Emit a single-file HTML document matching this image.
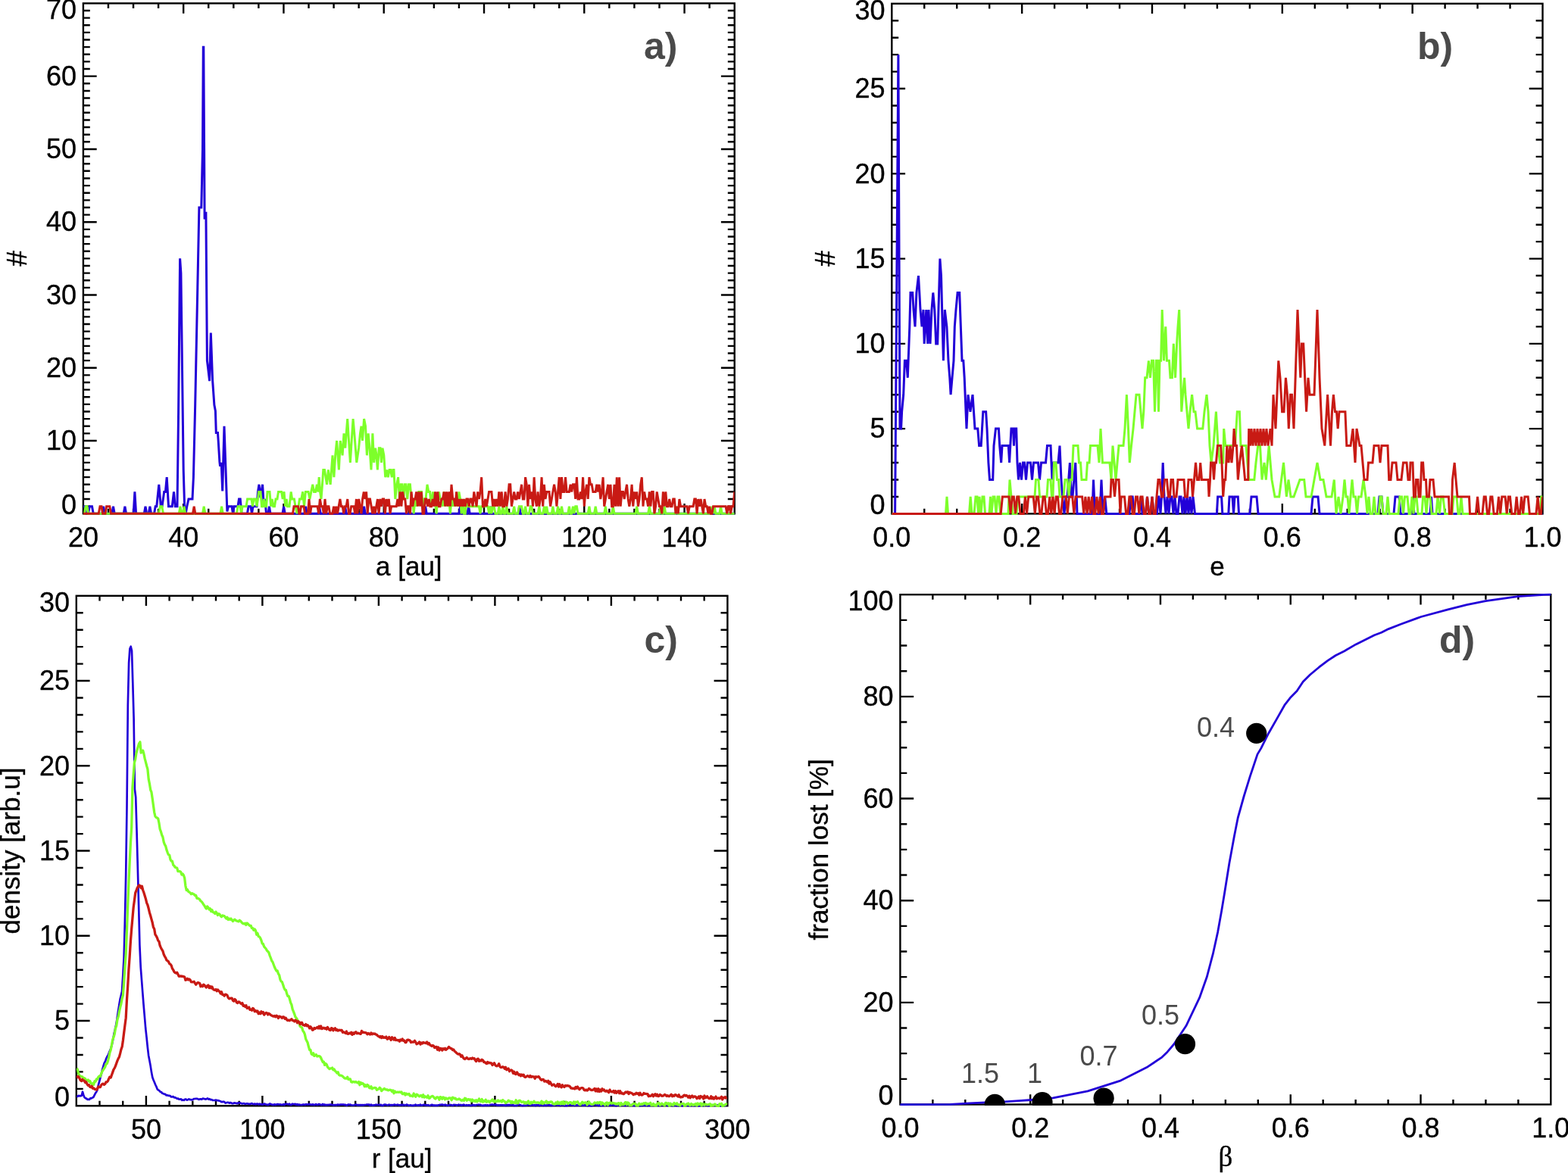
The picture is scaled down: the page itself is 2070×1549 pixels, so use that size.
<!DOCTYPE html><html><head><meta charset="utf-8"><title>plot</title><style>html,body{margin:0;padding:0;background:#fff;overflow:hidden}svg{display:block}text{font-family:"Liberation Sans", Arial, Helvetica, sans-serif;font-size:35px;fill:#000;stroke:#000;stroke-width:0.35px}.pl{font-weight:bold;font-size:50px;fill:#4a4a4a;stroke:none}.pt{fill:#4a4a4a;stroke:none}.tl{font-size:36px}</style></head><body>
<svg width="2070" height="1549" viewBox="0 0 2070 1549">
<rect width="2070" height="1549" fill="#fff"/>
<clipPath id="clipa"><rect x="109.90" y="2.40" width="859.80" height="677.90"/></clipPath>
<clipPath id="clipb"><rect x="1177.30" y="2.80" width="859.20" height="677.60"/></clipPath>
<clipPath id="clipc"><rect x="100.80" y="784.80" width="859.60" height="677.50"/></clipPath>
<clipPath id="clipd"><rect x="1188.40" y="783.20" width="858.90" height="677.30"/></clipPath>
<path d="M142.97 678.30V671.70M142.97 4.40V11.00M176.04 678.30V671.70M176.04 4.40V11.00M209.11 678.30V671.70M209.11 4.40V11.00M242.18 678.30V665.00M242.18 4.40V17.70M275.25 678.30V671.70M275.25 4.40V11.00M308.32 678.30V671.70M308.32 4.40V11.00M341.38 678.30V671.70M341.38 4.40V11.00M374.45 678.30V665.00M374.45 4.40V17.70M407.52 678.30V671.70M407.52 4.40V11.00M440.59 678.30V671.70M440.59 4.40V11.00M473.66 678.30V671.70M473.66 4.40V11.00M506.73 678.30V665.00M506.73 4.40V17.70M539.80 678.30V671.70M539.80 4.40V11.00M572.87 678.30V671.70M572.87 4.40V11.00M605.94 678.30V671.70M605.94 4.40V11.00M639.01 678.30V665.00M639.01 4.40V17.70M672.08 678.30V671.70M672.08 4.40V11.00M705.15 678.30V671.70M705.15 4.40V11.00M738.22 678.30V671.70M738.22 4.40V11.00M771.28 678.30V665.00M771.28 4.40V17.70M804.35 678.30V671.70M804.35 4.40V11.00M837.42 678.30V671.70M837.42 4.40V11.00M870.49 678.30V671.70M870.49 4.40V11.00M903.56 678.30V665.00M903.56 4.40V17.70M936.63 678.30V671.70M936.63 4.40V11.00M109.90 668.67H118.80M969.70 668.67H960.80M109.90 659.05H118.80M969.70 659.05H960.80M109.90 649.42H118.80M969.70 649.42H960.80M109.90 639.79H118.80M969.70 639.79H960.80M109.90 630.16H118.80M969.70 630.16H960.80M109.90 620.54H118.80M969.70 620.54H960.80M109.90 610.91H118.80M969.70 610.91H960.80M109.90 601.28H118.80M969.70 601.28H960.80M109.90 591.66H118.80M969.70 591.66H960.80M109.90 582.03H127.70M969.70 582.03H951.90M109.90 572.40H118.80M969.70 572.40H960.80M109.90 562.77H118.80M969.70 562.77H960.80M109.90 553.15H118.80M969.70 553.15H960.80M109.90 543.52H118.80M969.70 543.52H960.80M109.90 533.89H118.80M969.70 533.89H960.80M109.90 524.27H118.80M969.70 524.27H960.80M109.90 514.64H118.80M969.70 514.64H960.80M109.90 505.01H118.80M969.70 505.01H960.80M109.90 495.38H118.80M969.70 495.38H960.80M109.90 485.76H127.70M969.70 485.76H951.90M109.90 476.13H118.80M969.70 476.13H960.80M109.90 466.50H118.80M969.70 466.50H960.80M109.90 456.88H118.80M969.70 456.88H960.80M109.90 447.25H118.80M969.70 447.25H960.80M109.90 437.62H118.80M969.70 437.62H960.80M109.90 427.99H118.80M969.70 427.99H960.80M109.90 418.37H118.80M969.70 418.37H960.80M109.90 408.74H118.80M969.70 408.74H960.80M109.90 399.11H118.80M969.70 399.11H960.80M109.90 389.49H127.70M969.70 389.49H951.90M109.90 379.86H118.80M969.70 379.86H960.80M109.90 370.23H118.80M969.70 370.23H960.80M109.90 360.60H118.80M969.70 360.60H960.80M109.90 350.98H118.80M969.70 350.98H960.80M109.90 341.35H118.80M969.70 341.35H960.80M109.90 331.72H118.80M969.70 331.72H960.80M109.90 322.10H118.80M969.70 322.10H960.80M109.90 312.47H118.80M969.70 312.47H960.80M109.90 302.84H118.80M969.70 302.84H960.80M109.90 293.21H127.70M969.70 293.21H951.90M109.90 283.59H118.80M969.70 283.59H960.80M109.90 273.96H118.80M969.70 273.96H960.80M109.90 264.33H118.80M969.70 264.33H960.80M109.90 254.71H118.80M969.70 254.71H960.80M109.90 245.08H118.80M969.70 245.08H960.80M109.90 235.45H118.80M969.70 235.45H960.80M109.90 225.82H118.80M969.70 225.82H960.80M109.90 216.20H118.80M969.70 216.20H960.80M109.90 206.57H118.80M969.70 206.57H960.80M109.90 196.94H127.70M969.70 196.94H951.90M109.90 187.32H118.80M969.70 187.32H960.80M109.90 177.69H118.80M969.70 177.69H960.80M109.90 168.06H118.80M969.70 168.06H960.80M109.90 158.43H118.80M969.70 158.43H960.80M109.90 148.81H118.80M969.70 148.81H960.80M109.90 139.18H118.80M969.70 139.18H960.80M109.90 129.55H118.80M969.70 129.55H960.80M109.90 119.93H118.80M969.70 119.93H960.80M109.90 110.30H118.80M969.70 110.30H960.80M109.90 100.67H127.70M969.70 100.67H951.90M109.90 91.04H118.80M969.70 91.04H960.80M109.90 81.42H118.80M969.70 81.42H960.80M109.90 71.79H118.80M969.70 71.79H960.80M109.90 62.16H118.80M969.70 62.16H960.80M109.90 52.54H118.80M969.70 52.54H960.80M109.90 42.91H118.80M969.70 42.91H960.80M109.90 33.28H118.80M969.70 33.28H960.80M109.90 23.65H118.80M969.70 23.65H960.80M109.90 14.03H118.80M969.70 14.03H960.80" stroke="#000" stroke-width="2.40" fill="none"/>
<rect x="109.90" y="4.40" width="859.80" height="673.90" stroke="#000" stroke-width="2.40" fill="none"/>
<path d="M1220.26 678.40V671.80M1220.26 4.80V11.40M1263.22 678.40V671.80M1263.22 4.80V11.40M1306.18 678.40V671.80M1306.18 4.80V11.40M1349.14 678.40V665.10M1349.14 4.80V18.10M1392.10 678.40V671.80M1392.10 4.80V11.40M1435.06 678.40V671.80M1435.06 4.80V11.40M1478.02 678.40V671.80M1478.02 4.80V11.40M1520.98 678.40V665.10M1520.98 4.80V18.10M1563.94 678.40V671.80M1563.94 4.80V11.40M1606.90 678.40V671.80M1606.90 4.80V11.40M1649.86 678.40V671.80M1649.86 4.80V11.40M1692.82 678.40V665.10M1692.82 4.80V18.10M1735.78 678.40V671.80M1735.78 4.80V11.40M1778.74 678.40V671.80M1778.74 4.80V11.40M1821.70 678.40V671.80M1821.70 4.80V11.40M1864.66 678.40V665.10M1864.66 4.80V18.10M1907.62 678.40V671.80M1907.62 4.80V11.40M1950.58 678.40V671.80M1950.58 4.80V11.40M1993.54 678.40V671.80M1993.54 4.80V11.40M1177.30 655.95H1186.20M2036.50 655.95H2027.60M1177.30 633.49H1186.20M2036.50 633.49H2027.60M1177.30 611.04H1186.20M2036.50 611.04H2027.60M1177.30 588.59H1186.20M2036.50 588.59H2027.60M1177.30 566.13H1195.10M2036.50 566.13H2018.70M1177.30 543.68H1186.20M2036.50 543.68H2027.60M1177.30 521.23H1186.20M2036.50 521.23H2027.60M1177.30 498.77H1186.20M2036.50 498.77H2027.60M1177.30 476.32H1186.20M2036.50 476.32H2027.60M1177.30 453.87H1195.10M2036.50 453.87H2018.70M1177.30 431.41H1186.20M2036.50 431.41H2027.60M1177.30 408.96H1186.20M2036.50 408.96H2027.60M1177.30 386.51H1186.20M2036.50 386.51H2027.60M1177.30 364.05H1186.20M2036.50 364.05H2027.60M1177.30 341.60H1195.10M2036.50 341.60H2018.70M1177.30 319.15H1186.20M2036.50 319.15H2027.60M1177.30 296.69H1186.20M2036.50 296.69H2027.60M1177.30 274.24H1186.20M2036.50 274.24H2027.60M1177.30 251.79H1186.20M2036.50 251.79H2027.60M1177.30 229.33H1195.10M2036.50 229.33H2018.70M1177.30 206.88H1186.20M2036.50 206.88H2027.60M1177.30 184.43H1186.20M2036.50 184.43H2027.60M1177.30 161.97H1186.20M2036.50 161.97H2027.60M1177.30 139.52H1186.20M2036.50 139.52H2027.60M1177.30 117.07H1195.10M2036.50 117.07H2018.70M1177.30 94.61H1186.20M2036.50 94.61H2027.60M1177.30 72.16H1186.20M2036.50 72.16H2027.60M1177.30 49.71H1186.20M2036.50 49.71H2027.60M1177.30 27.25H1186.20M2036.50 27.25H2027.60" stroke="#000" stroke-width="2.40" fill="none"/>
<rect x="1177.30" y="4.80" width="859.20" height="673.60" stroke="#000" stroke-width="2.40" fill="none"/>
<path d="M131.50 1460.30V1453.70M131.50 786.80V793.40M162.20 1460.30V1453.70M162.20 786.80V793.40M192.90 1460.30V1447.00M192.90 786.80V800.10M223.60 1460.30V1453.70M223.60 786.80V793.40M254.30 1460.30V1453.70M254.30 786.80V793.40M285.00 1460.30V1453.70M285.00 786.80V793.40M315.70 1460.30V1453.70M315.70 786.80V793.40M346.40 1460.30V1447.00M346.40 786.80V800.10M377.10 1460.30V1453.70M377.10 786.80V793.40M407.80 1460.30V1453.70M407.80 786.80V793.40M438.50 1460.30V1453.70M438.50 786.80V793.40M469.20 1460.30V1453.70M469.20 786.80V793.40M499.90 1460.30V1447.00M499.90 786.80V800.10M530.60 1460.30V1453.70M530.60 786.80V793.40M561.30 1460.30V1453.70M561.30 786.80V793.40M592.00 1460.30V1453.70M592.00 786.80V793.40M622.70 1460.30V1453.70M622.70 786.80V793.40M653.40 1460.30V1447.00M653.40 786.80V800.10M684.10 1460.30V1453.70M684.10 786.80V793.40M714.80 1460.30V1453.70M714.80 786.80V793.40M745.50 1460.30V1453.70M745.50 786.80V793.40M776.20 1460.30V1453.70M776.20 786.80V793.40M806.90 1460.30V1447.00M806.90 786.80V800.10M837.60 1460.30V1453.70M837.60 786.80V793.40M868.30 1460.30V1453.70M868.30 786.80V793.40M899.00 1460.30V1453.70M899.00 786.80V793.40M929.70 1460.30V1453.70M929.70 786.80V793.40M100.80 1437.85H109.70M960.40 1437.85H951.50M100.80 1415.40H109.70M960.40 1415.40H951.50M100.80 1392.95H109.70M960.40 1392.95H951.50M100.80 1370.50H109.70M960.40 1370.50H951.50M100.80 1348.05H118.60M960.40 1348.05H942.60M100.80 1325.60H109.70M960.40 1325.60H951.50M100.80 1303.15H109.70M960.40 1303.15H951.50M100.80 1280.70H109.70M960.40 1280.70H951.50M100.80 1258.25H109.70M960.40 1258.25H951.50M100.80 1235.80H118.60M960.40 1235.80H942.60M100.80 1213.35H109.70M960.40 1213.35H951.50M100.80 1190.90H109.70M960.40 1190.90H951.50M100.80 1168.45H109.70M960.40 1168.45H951.50M100.80 1146.00H109.70M960.40 1146.00H951.50M100.80 1123.55H118.60M960.40 1123.55H942.60M100.80 1101.10H109.70M960.40 1101.10H951.50M100.80 1078.65H109.70M960.40 1078.65H951.50M100.80 1056.20H109.70M960.40 1056.20H951.50M100.80 1033.75H109.70M960.40 1033.75H951.50M100.80 1011.30H118.60M960.40 1011.30H942.60M100.80 988.85H109.70M960.40 988.85H951.50M100.80 966.40H109.70M960.40 966.40H951.50M100.80 943.95H109.70M960.40 943.95H951.50M100.80 921.50H109.70M960.40 921.50H951.50M100.80 899.05H118.60M960.40 899.05H942.60M100.80 876.60H109.70M960.40 876.60H951.50M100.80 854.15H109.70M960.40 854.15H951.50M100.80 831.70H109.70M960.40 831.70H951.50M100.80 809.25H109.70M960.40 809.25H951.50" stroke="#000" stroke-width="2.40" fill="none"/>
<rect x="100.80" y="786.80" width="859.60" height="673.50" stroke="#000" stroke-width="2.40" fill="none"/>
<path d="M1231.35 1458.50V1451.90M1231.35 785.20V791.80M1274.29 1458.50V1451.90M1274.29 785.20V791.80M1317.24 1458.50V1451.90M1317.24 785.20V791.80M1360.18 1458.50V1445.20M1360.18 785.20V798.50M1403.12 1458.50V1451.90M1403.12 785.20V791.80M1446.07 1458.50V1451.90M1446.07 785.20V791.80M1489.02 1458.50V1451.90M1489.02 785.20V791.80M1531.96 1458.50V1445.20M1531.96 785.20V798.50M1574.90 1458.50V1451.90M1574.90 785.20V791.80M1617.85 1458.50V1451.90M1617.85 785.20V791.80M1660.80 1458.50V1451.90M1660.80 785.20V791.80M1703.74 1458.50V1445.20M1703.74 785.20V798.50M1746.68 1458.50V1451.90M1746.68 785.20V791.80M1789.63 1458.50V1451.90M1789.63 785.20V791.80M1832.58 1458.50V1451.90M1832.58 785.20V791.80M1875.52 1458.50V1445.20M1875.52 785.20V798.50M1918.47 1458.50V1451.90M1918.47 785.20V791.80M1961.41 1458.50V1451.90M1961.41 785.20V791.80M2004.36 1458.50V1451.90M2004.36 785.20V791.80M1188.40 1424.84H1197.30M2047.30 1424.84H2038.40M1188.40 1391.17H1197.30M2047.30 1391.17H2038.40M1188.40 1357.51H1197.30M2047.30 1357.51H2038.40M1188.40 1323.84H1206.20M2047.30 1323.84H2029.50M1188.40 1290.17H1197.30M2047.30 1290.17H2038.40M1188.40 1256.51H1197.30M2047.30 1256.51H2038.40M1188.40 1222.85H1197.30M2047.30 1222.85H2038.40M1188.40 1189.18H1206.20M2047.30 1189.18H2029.50M1188.40 1155.51H1197.30M2047.30 1155.51H2038.40M1188.40 1121.85H1197.30M2047.30 1121.85H2038.40M1188.40 1088.18H1197.30M2047.30 1088.18H2038.40M1188.40 1054.52H1206.20M2047.30 1054.52H2029.50M1188.40 1020.86H1197.30M2047.30 1020.86H2038.40M1188.40 987.19H1197.30M2047.30 987.19H2038.40M1188.40 953.53H1197.30M2047.30 953.53H2038.40M1188.40 919.86H1206.20M2047.30 919.86H2029.50M1188.40 886.20H1197.30M2047.30 886.20H2038.40M1188.40 852.53H1197.30M2047.30 852.53H2038.40M1188.40 818.87H1197.30M2047.30 818.87H2038.40" stroke="#000" stroke-width="2.40" fill="none"/>
<rect x="1188.40" y="785.20" width="858.90" height="673.30" stroke="#000" stroke-width="2.40" fill="none"/>
<polyline points="110.0,668.7 112.0,668.7 113.6,678.3 116.5,678.3 118.2,668.7 121.5,668.7 123.2,678.3 135.0,678.3 136.6,668.7 138.3,678.3 147.8,678.3 149.5,668.7 151.2,678.3 163.2,678.3 164.9,668.7 166.6,678.3 176.2,678.3 177.9,649.4 179.6,678.3 190.3,678.3 192.0,668.7 193.7,678.3 196.2,678.3 197.9,668.7 199.6,678.3 203.5,678.3 205.2,668.7 206.8,668.7 209.8,639.8 212.3,668.7 214.0,668.7 216.7,649.4 218.4,649.4 220.2,630.2 222.5,668.7 225.5,668.7 227.3,668.7 229.5,649.4 231.3,668.7 234.0,668.7 235.6,543.5 237.6,341.3 238.9,360.6 240.5,485.8 242.2,620.5 243.9,678.3 245.2,678.3 246.8,668.7 249.0,659.0 254.0,659.0 255.4,630.2 257.7,533.9 260.8,379.9 262.9,274.0 265.8,274.0 267.5,196.9 268.3,62.2 268.8,62.2 269.6,196.9 270.1,289.4 271.9,279.7 273.4,476.1 274.6,485.8 276.6,503.1 278.3,439.5 280.6,502.1 282.9,534.9 284.4,542.6 285.3,571.4 287.5,571.4 288.2,582.0 289.9,609.9 290.6,615.7 292.2,610.9 293.7,648.5 296.0,562.8 299.9,675.4 301.5,668.7 306.0,668.7 307.5,678.3 309.0,668.7 314.0,668.7 315.5,659.0 317.2,659.0 319.0,678.3 326.5,678.3 328.0,668.7 331.0,668.7 332.5,678.3 334.0,668.7 339.0,668.7 340.5,649.4 342.0,639.8 343.8,657.1 345.0,649.4 346.6,639.8 348.3,668.7 349.8,659.0 351.5,678.3 354.0,678.3 355.4,668.7 357.0,678.3 373.0,678.3 374.6,668.7 376.2,678.3 402.0,678.3 403.6,668.7 405.2,678.3 420.0,678.3 421.6,668.7 423.2,678.3 454.0,678.3 455.6,668.7 457.2,678.3 479.0,678.3 480.6,668.7 482.2,678.3 560.0,678.3 561.6,668.7 563.2,678.3 606.0,678.3 607.6,668.7 609.2,678.3 617.0,678.3 618.6,668.7 620.2,678.3 646.0,678.3 647.6,668.7 649.2,678.3 684.0,678.3 685.6,668.7 687.2,678.3 969.7,678.3" fill="none" stroke="#2200d8" stroke-width="3.00" stroke-linejoin="miter" stroke-miterlimit="2.5" clip-path="url(#clipa)"/>
<polyline points="110.0,678.3 111.5,678.3 113.0,668.7 115.0,668.7 116.6,678.3 209.5,678.3 211.5,668.7 213.8,668.7 215.5,678.3 236.3,678.3 238.0,668.7 239.6,678.3 241.3,678.3 243.0,668.7 244.6,678.3 267.5,678.3 269.2,668.7 270.8,678.3 290.9,678.3 292.6,668.7 294.2,678.3 312.5,678.3 314.0,668.7 317.0,668.7 318.6,678.3 320.0,668.7 325.0,668.7 326.6,659.0 332.0,659.0 333.5,668.7 335.0,659.0 337.5,659.0 339.0,668.7 340.5,659.0 341.5,649.4 344.0,649.4 345.5,668.7 347.0,668.7 348.5,659.0 350.0,668.7 351.6,668.7 353.0,649.4 356.0,649.4 357.6,668.7 359.2,659.0 360.8,668.7 362.5,668.7 364.0,659.0 366.0,659.0 367.5,649.4 370.0,649.4 371.6,649.4 373.2,659.0 375.0,649.4 376.6,668.7 378.2,659.0 379.4,668.7 380.0,668.7 382.0,668.7 384.2,649.4 385.6,659.0 388.4,659.0 390.0,668.7 392.0,678.3 394.0,668.7 395.5,659.0 397.8,659.0 399.7,649.4 401.5,668.7 403.4,649.4 405.0,649.4 407.0,649.4 409.0,659.0 410.8,649.4 412.8,639.8 414.5,649.4 416.5,649.4 418.4,639.8 420.0,649.4 421.2,630.2 422.6,649.4 424.0,659.0 425.5,639.8 426.8,620.5 428.5,620.5 430.0,630.2 431.5,639.8 433.4,620.5 434.8,630.2 436.2,639.8 437.6,620.5 439.0,601.3 440.9,630.2 442.7,601.3 444.6,582.0 446.0,601.3 447.4,620.5 449.3,582.0 450.7,591.7 452.1,601.3 454.0,572.4 455.8,591.7 457.2,572.4 458.7,553.1 460.5,582.0 462.4,610.9 464.2,582.0 466.1,553.1 467.8,572.4 469.3,591.7 470.8,610.9 472.2,601.3 473.6,591.7 475.5,572.4 477.0,562.8 478.5,582.0 480.6,553.1 482.5,562.8 484.4,601.3 486.2,572.4 488.0,591.7 490.0,620.5 491.9,572.4 493.7,610.9 495.6,591.7 497.0,601.3 498.4,620.5 500.3,591.7 502.0,591.7 503.5,610.9 505.0,591.7 506.8,601.3 508.7,630.2 510.6,620.5 512.3,630.2 514.0,620.5 515.7,620.5 517.3,630.2 518.8,620.5 520.0,620.5 521.8,659.0 523.8,639.8 525.6,630.2 527.4,659.0 529.2,639.8 531.0,639.8 532.7,659.0 534.4,639.8 536.0,639.8 537.8,659.0 539.5,639.8 541.4,639.8 543.1,659.0 544.8,659.0 546.2,678.3 548.0,659.0 550.0,668.7 552.7,649.4 554.6,649.4 556.5,649.4 558.2,668.7 560.0,659.0 562.0,659.0 564.0,639.8 565.8,649.4 567.5,649.4 569.3,668.7 571.4,649.4 573.0,659.0 575.0,668.7 576.2,678.3 577.8,659.0 579.5,649.4 581.1,659.0 582.8,659.0 584.4,668.7 586.1,649.4 587.7,668.7 589.4,659.0 591.1,668.7 592.7,659.0 594.4,678.3 596.0,659.0 597.7,668.7 599.3,659.0 601.0,668.7 602.6,659.0 604.3,668.7 605.9,649.4 607.6,659.0 609.2,678.3 610.9,659.0 612.5,678.3 614.2,678.3 615.9,659.0 617.5,668.7 619.2,668.7 620.8,668.7 622.5,668.7 624.1,668.7 625.8,668.7 627.4,668.7 629.1,668.7 630.7,668.7 632.4,668.7 634.0,678.3 635.7,668.7 637.4,668.7 639.0,668.7 640.7,668.7 642.3,668.7 644.0,668.7 645.6,678.3 647.3,668.7 648.9,678.3 650.6,668.7 652.2,668.7 653.9,678.3 655.5,678.3 657.2,678.3 658.8,668.7 660.5,678.3 662.2,678.3 663.8,668.7 665.5,678.3 667.1,678.3 668.8,668.7 670.4,678.3 672.1,678.3 673.7,678.3 675.4,678.3 677.0,678.3 678.7,668.7 680.3,678.3 682.0,678.3 683.6,678.3 685.3,668.7 687.0,668.7 688.6,668.7 690.3,678.3 691.9,678.3 693.6,668.7 695.2,678.3 696.9,678.3 698.5,678.3 700.2,668.7 701.8,668.7 703.5,678.3 705.1,678.3 706.8,678.3 708.4,678.3 710.1,678.3 711.8,668.7 713.4,678.3 715.1,678.3 716.7,678.3 718.4,668.7 720.0,678.3 721.7,668.7 723.3,678.3 725.0,678.3 726.6,678.3 728.3,678.3 729.9,668.7 731.6,678.3 733.3,678.3 734.9,678.3 736.6,668.7 738.2,678.3 739.9,678.3 741.5,668.7 743.2,678.3 744.8,678.3 746.5,678.3 748.1,678.3 749.8,678.3 751.4,668.7 753.1,678.3 754.7,678.3 756.4,668.7 758.1,678.3 759.7,668.7 761.4,668.7 763.0,678.3 764.7,678.3 766.3,678.3 768.0,678.3 769.6,678.3 771.3,678.3 772.9,678.3 774.6,678.3 776.2,678.3 777.9,668.7 779.5,678.3 781.2,678.3 782.9,678.3 784.5,678.3 786.2,668.7 787.8,678.3 789.5,678.3 791.1,678.3 792.8,678.3 794.4,678.3 796.1,678.3 797.7,678.3 799.4,668.7 801.0,678.3 802.7,678.3 804.3,678.3 806.0,678.3 807.7,678.3 809.3,668.7 811.0,678.3 812.6,678.3 814.3,678.3 815.9,678.3 817.6,678.3 819.2,678.3 820.9,678.3 822.5,678.3 824.2,678.3 825.8,678.3 827.5,678.3 829.2,678.3 830.8,678.3 832.5,678.3 834.1,678.3 835.8,678.3 837.4,678.3 839.1,678.3 840.7,668.7 842.4,678.3 844.0,678.3 845.7,678.3 847.3,678.3 849.0,678.3 850.6,678.3 852.3,678.3 854.0,678.3 855.6,678.3 857.3,668.7 858.9,678.3 860.6,678.3 862.2,678.3 863.9,678.3 865.5,678.3 867.2,678.3 868.8,678.3 870.5,678.3 872.1,668.7 873.8,678.3 875.4,678.3 877.1,668.7 878.8,678.3 880.4,678.3 882.1,678.3 883.7,678.3 885.4,678.3 887.0,678.3 888.7,678.3 890.3,678.3 892.0,678.3 893.6,668.7 895.3,678.3 896.9,678.3 898.6,678.3 900.2,678.3 901.9,678.3 903.6,678.3 905.2,678.3 906.9,678.3 908.5,678.3 910.2,678.3 911.8,678.3 913.5,678.3 915.1,678.3 916.8,678.3 918.4,678.3 920.1,678.3 921.7,678.3 923.4,678.3 925.1,678.3 926.7,678.3 928.4,678.3 930.0,678.3 931.7,678.3 933.3,678.3 935.0,678.3 936.6,678.3 938.3,678.3 939.9,668.7 941.6,678.3 943.2,668.7 944.9,678.3 946.5,678.3 948.2,678.3 949.9,678.3 951.5,668.7 953.2,678.3 954.8,678.3 956.5,678.3 958.1,678.3 959.8,678.3 961.4,678.3 963.1,678.3 964.7,678.3 966.4,678.3 968.0,678.3 969.7,678.3" fill="none" stroke="#7dff2a" stroke-width="3.00" stroke-linejoin="miter" stroke-miterlimit="2.5" clip-path="url(#clipa)"/>
<polyline points="110.0,678.3 130.2,678.3 132.0,668.7 134.0,668.7 135.6,678.3 139.0,678.3 140.6,668.7 144.8,668.7 146.5,678.3 254.5,678.3 256.2,668.7 257.8,678.3 386.5,678.3 388.0,668.7 393.5,668.7 395.0,678.3 396.0,678.3 397.5,668.7 401.0,668.7 402.6,678.3 406.5,678.3 408.0,659.0 409.6,678.3 411.0,668.7 415.0,668.7 415.8,668.7 417.4,668.7 419.1,668.7 420.7,678.3 422.4,659.0 424.1,668.7 425.7,668.7 427.4,678.3 429.0,659.0 430.7,678.3 432.3,668.7 434.0,668.7 435.6,678.3 437.3,678.3 438.9,678.3 440.6,668.7 442.2,678.3 443.9,668.7 445.6,678.3 447.2,668.7 448.9,659.0 450.5,668.7 452.2,668.7 453.8,678.3 455.5,668.7 457.1,668.7 458.8,659.0 460.4,678.3 462.1,678.3 463.7,668.7 465.4,668.7 467.0,668.7 468.7,678.3 470.4,659.0 472.0,678.3 473.7,659.0 475.3,668.7 477.0,678.3 478.6,659.0 480.3,649.4 481.9,659.0 483.6,649.4 485.2,678.3 486.9,659.0 488.5,659.0 490.2,668.7 491.8,678.3 493.5,668.7 495.2,678.3 496.8,668.7 498.5,659.0 500.1,678.3 501.8,659.0 503.4,668.7 505.1,659.0 506.7,659.0 508.4,678.3 510.0,659.0 511.7,668.7 513.3,659.0 515.0,678.3 516.6,668.7 518.3,668.7 520.0,668.7 521.6,668.7 523.3,668.7 524.9,659.0 526.6,668.7 528.2,649.4 529.9,668.7 531.5,649.4 533.2,659.0 534.8,659.0 536.5,678.3 538.1,668.7 539.8,668.7 541.5,678.3 543.1,649.4 544.8,668.7 546.4,659.0 548.1,659.0 549.7,649.4 551.4,668.7 553.0,649.4 554.7,668.7 556.3,649.4 558.0,678.3 559.6,678.3 561.3,659.0 562.9,659.0 564.6,668.7 566.3,659.0 567.9,668.7 569.6,668.7 571.2,659.0 572.9,668.7 574.5,649.4 576.2,668.7 577.8,649.4 579.5,668.7 581.1,668.7 582.8,659.0 584.4,659.0 586.1,649.4 587.7,668.7 589.4,649.4 591.1,668.7 592.7,649.4 594.4,668.7 596.0,639.8 597.7,659.0 599.3,659.0 601.0,668.7 602.6,649.4 604.3,668.7 605.9,659.0 607.6,668.7 609.2,659.0 610.9,668.7 612.5,659.0 614.2,668.7 615.9,659.0 617.5,659.0 619.2,668.7 620.8,659.0 622.5,659.0 624.1,668.7 625.8,649.4 627.4,659.0 629.1,668.7 630.7,649.4 632.4,659.0 634.0,649.4 635.7,630.2 637.4,668.7 639.0,668.7 640.7,659.0 642.3,668.7 644.0,659.0 645.6,649.4 647.3,649.4 648.9,649.4 650.6,668.7 652.2,659.0 653.9,668.7 655.5,659.0 657.2,668.7 658.8,649.4 660.5,668.7 662.2,649.4 663.8,668.7 665.5,668.7 667.1,649.4 668.8,668.7 670.4,659.0 672.1,639.8 673.7,639.8 675.4,668.7 677.0,659.0 678.7,649.4 680.3,659.0 682.0,659.0 683.6,649.4 685.3,659.0 687.0,649.4 688.6,639.8 690.3,659.0 691.9,659.0 693.6,630.2 695.2,639.8 696.9,668.7 698.5,639.8 700.2,659.0 701.8,649.4 703.5,668.7 705.1,630.2 706.8,659.0 708.4,668.7 710.1,649.4 711.8,668.7 713.4,659.0 715.1,630.2 716.7,668.7 718.4,639.8 720.0,659.0 721.7,649.4 723.3,649.4 725.0,649.4 726.6,668.7 728.3,659.0 729.9,649.4 731.6,639.8 733.3,649.4 734.9,668.7 736.6,649.4 738.2,630.2 739.9,659.0 741.5,630.2 743.2,649.4 744.8,649.4 746.5,630.2 748.1,649.4 749.8,649.4 751.4,649.4 753.1,639.8 754.7,649.4 756.4,639.8 758.1,639.8 759.7,659.0 761.4,630.2 763.0,659.0 764.7,659.0 766.3,649.4 768.0,659.0 769.6,630.2 771.3,668.7 772.9,649.4 774.6,639.8 776.2,659.0 777.9,630.2 779.5,639.8 781.2,639.8 782.9,649.4 784.5,649.4 786.2,649.4 787.8,639.8 789.5,649.4 791.1,639.8 792.8,659.0 794.4,649.4 796.1,630.2 797.7,668.7 799.4,659.0 801.0,649.4 802.7,639.8 804.3,659.0 806.0,639.8 807.7,668.7 809.3,668.7 811.0,639.8 812.6,668.7 814.3,630.2 815.9,668.7 817.6,630.2 819.2,668.7 820.9,649.4 822.5,649.4 824.2,659.0 825.8,649.4 827.5,639.8 829.2,659.0 830.8,668.7 832.5,659.0 834.1,639.8 835.8,668.7 837.4,649.4 839.1,659.0 840.7,649.4 842.4,668.7 844.0,659.0 845.7,639.8 847.3,630.2 849.0,668.7 850.6,649.4 852.3,659.0 854.0,659.0 855.6,668.7 857.3,649.4 858.9,668.7 860.6,649.4 862.2,649.4 863.9,678.3 865.5,668.7 867.2,649.4 868.8,659.0 870.5,668.7 872.1,668.7 873.8,678.3 875.4,649.4 877.1,668.7 878.8,649.4 880.4,668.7 882.1,668.7 883.7,659.0 885.4,668.7 887.0,668.7 888.7,659.0 890.3,659.0 892.0,678.3 893.6,668.7 895.3,678.3 896.9,659.0 898.6,668.7 900.2,668.7 901.9,668.7 903.6,668.7 905.2,668.7 906.9,668.7 908.5,678.3 910.2,668.7 911.8,668.7 913.5,668.7 915.1,668.7 916.8,659.0 918.4,659.0 920.1,678.3 921.7,659.0 923.4,668.7 925.1,659.0 926.7,668.7 928.4,678.3 930.0,659.0 931.7,668.7 933.3,668.7 935.0,678.3 936.6,668.7 938.3,678.3 939.9,678.3 941.6,668.7 943.2,668.7 944.9,668.7 946.5,668.7 948.2,668.7 949.9,668.7 951.5,668.7 953.2,668.7 954.8,668.7 956.5,668.7 958.1,668.7 959.8,678.3 961.4,668.7 963.1,668.7 964.5,678.3 966.2,668.7 968.0,668.7 969.7,649.4" fill="none" stroke="#c81a14" stroke-width="3.00" stroke-linejoin="miter" stroke-miterlimit="2.5" clip-path="url(#clipa)"/>
<polyline points="1177.3,678.4 1181.6,678.4 1183.7,386.5 1185.9,72.2 1188.0,566.1 1189.6,566.1 1190.6,543.7 1192.7,521.2 1194.4,476.3 1196.5,476.3 1198.3,498.8 1200.8,431.4 1202.0,386.5 1204.7,386.5 1206.0,409.0 1208.0,431.4 1209.9,386.5 1212.5,364.1 1213.8,386.5 1215.0,409.0 1217.0,431.4 1219.0,409.0 1220.2,453.9 1222.8,409.0 1224.7,453.9 1226.0,409.0 1228.0,453.9 1230.0,409.0 1231.8,386.5 1233.8,409.0 1235.7,453.9 1237.7,453.9 1240.9,341.6 1242.5,364.1 1245.4,476.3 1247.3,409.0 1249.9,431.4 1252.0,476.3 1253.8,498.8 1255.1,521.2 1257.0,498.8 1259.0,476.3 1260.3,431.4 1262.0,409.0 1264.1,386.5 1266.7,386.5 1270.0,476.3 1271.8,476.3 1273.2,498.8 1276.0,566.1 1278.0,521.2 1281.0,543.7 1284.0,521.2 1287.0,566.1 1290.8,566.1 1292.6,588.6 1295.2,588.6 1296.5,566.1 1297.8,543.7 1301.6,543.7 1303.0,566.1 1304.9,611.0 1306.5,633.5 1310.7,633.5 1312.0,588.6 1314.5,566.1 1318.4,566.1 1319.7,588.6 1321.7,611.0 1323.0,588.6 1331.3,588.6 1332.6,611.0 1335.0,566.1 1337.5,566.1 1338.5,588.6 1339.5,566.1 1341.7,566.1 1343.0,611.0 1344.5,633.5 1346.5,611.0 1348.5,633.5 1350.5,611.0 1352.5,611.0 1354.5,633.5 1356.5,611.0 1358.5,611.0 1360.5,611.0 1362.5,633.5 1364.5,611.0 1366.5,611.0 1368.5,611.0 1370.5,611.0 1372.5,633.5 1374.5,611.0 1376.5,611.0 1378.5,611.0 1380.5,611.0 1382.5,588.6 1385.0,588.6 1387.0,588.6 1389.0,633.5 1391.0,611.0 1393.0,611.0 1395.0,611.0 1397.0,611.0 1399.0,588.6 1401.0,633.5 1402.6,655.9 1405.0,678.4 1407.0,655.9 1409.0,655.9 1412.4,611.0 1414.5,655.9 1416.0,655.9 1417.8,633.5 1419.8,611.0 1422.0,678.4 1442.0,678.4 1443.5,633.5 1445.5,678.4 1452.0,678.4 1454.0,633.5 1456.0,678.4 1456.5,678.4 1458.7,655.9 1460.8,678.4 1463.0,678.4 1465.1,678.4 1467.3,678.4 1469.4,678.4 1471.6,678.4 1473.7,678.4 1475.9,678.4 1478.0,678.4 1480.2,678.4 1482.3,678.4 1484.5,678.4 1486.6,678.4 1488.8,678.4 1490.9,678.4 1493.1,655.9 1495.2,655.9 1497.4,678.4 1499.5,678.4 1501.6,678.4 1503.8,678.4 1505.9,655.9 1508.1,678.4 1510.2,678.4 1512.4,678.4 1514.5,655.9 1516.7,678.4 1518.8,678.4 1521.0,655.9 1523.1,678.4 1525.3,678.4 1527.4,678.4 1529.6,655.9 1530.0,655.9 1532.0,678.4 1533.5,655.9 1535.2,611.0 1537.0,655.9 1539.0,678.4 1541.0,655.9 1543.0,678.4 1545.0,655.9 1547.0,655.9 1549.0,678.4 1551.0,655.9 1553.0,678.4 1555.0,678.4 1557.0,655.9 1559.0,655.9 1561.0,678.4 1563.0,655.9 1565.0,678.4 1567.0,655.9 1569.0,678.4 1571.0,655.9 1573.0,678.4 1575.0,655.9 1577.5,678.4 1606.4,678.4 1607.6,655.9 1612.6,655.9 1613.8,678.4 1621.8,678.4 1623.0,655.9 1627.0,655.9 1628.5,678.4 1630.0,655.9 1634.3,655.9 1635.5,678.4 1650.0,678.4 1652.0,655.9 1659.0,655.9 1661.0,678.4 1731.0,678.4 1733.0,655.9 1740.0,655.9 1742.0,678.4 1819.0,678.4 1821.0,655.9 1824.0,655.9 1826.0,678.4 1840.0,678.4 1842.0,655.9 1847.0,655.9 1849.0,678.4 1863.0,678.4 1865.0,655.9 1867.0,678.4 1888.0,678.4 1889.5,655.9 1891.0,678.4 2036.5,678.4" fill="none" stroke="#2200d8" stroke-width="3.00" stroke-linejoin="miter" stroke-miterlimit="2.5" clip-path="url(#clipb)"/>
<polyline points="1177.3,678.4 1179.4,678.4 1181.6,678.4 1183.7,678.4 1185.9,678.4 1188.0,678.4 1190.2,678.4 1192.3,678.4 1194.5,678.4 1196.6,678.4 1198.8,678.4 1200.9,678.4 1203.1,678.4 1205.2,678.4 1207.4,678.4 1209.5,678.4 1211.7,678.4 1213.8,678.4 1216.0,678.4 1218.1,678.4 1220.3,678.4 1222.4,678.4 1224.6,678.4 1226.7,678.4 1228.9,678.4 1231.0,678.4 1233.1,678.4 1235.3,678.4 1237.4,678.4 1239.6,678.4 1241.7,678.4 1244.0,678.4 1248.5,678.4 1250.0,655.9 1251.5,678.4 1279.5,678.4 1281.2,655.9 1283.0,678.4 1286.0,678.4 1288.0,655.9 1290.0,655.9 1291.5,678.4 1293.0,655.9 1295.0,678.4 1297.0,655.9 1299.0,655.9 1300.5,678.4 1306.0,678.4 1307.5,655.9 1309.0,678.4 1311.0,655.9 1313.0,655.9 1315.0,678.4 1317.0,655.9 1319.0,655.9 1320.5,678.4 1331.0,678.4 1333.0,633.5 1335.0,655.9 1337.0,678.4 1342.0,678.4 1344.0,655.9 1366.0,655.9 1367.5,633.5 1371.0,633.5 1372.5,655.9 1382.0,655.9 1383.5,633.5 1387.0,633.5 1388.5,655.9 1390.0,655.9 1391.5,611.0 1394.0,611.0 1395.5,633.5 1397.5,633.5 1399.0,655.9 1404.0,655.9 1406.0,633.5 1409.0,633.5 1411.0,655.9 1413.0,633.5 1415.0,633.5 1417.0,588.6 1423.0,588.6 1424.5,611.0 1426.5,611.0 1428.0,633.5 1434.0,633.5 1435.5,611.0 1438.0,611.0 1439.5,588.6 1449.0,588.6 1451.0,611.0 1453.0,566.1 1455.5,611.0 1457.0,611.0 1465.0,611.0 1467.0,633.5 1469.0,588.6 1471.0,611.0 1473.0,633.5 1475.0,611.0 1477.0,588.6 1483.0,588.6 1485.0,566.1 1487.4,521.2 1489.5,566.1 1491.3,611.0 1493.5,588.6 1496.0,566.1 1498.0,543.7 1500.0,521.2 1504.0,521.2 1506.0,543.7 1508.0,566.1 1509.8,543.7 1511.7,498.8 1514.0,498.8 1516.4,476.3 1518.5,498.8 1520.5,476.3 1522.6,476.3 1524.5,543.7 1526.4,476.3 1528.0,476.3 1529.5,543.7 1531.0,476.3 1532.6,476.3 1534.2,409.0 1536.5,476.3 1538.8,431.4 1540.4,476.3 1543.5,476.3 1545.0,498.8 1547.4,498.8 1549.3,453.9 1551.6,498.8 1553.6,453.9 1555.0,431.4 1556.7,409.0 1559.8,543.7 1561.5,521.2 1563.6,498.8 1565.0,521.2 1567.0,543.7 1569.0,566.1 1571.0,543.7 1573.6,521.2 1576.0,543.7 1578.0,543.7 1580.6,566.1 1584.0,566.1 1587.8,566.1 1590.0,543.7 1593.0,521.2 1595.0,543.7 1597.0,588.6 1599.0,611.0 1602.0,588.6 1605.4,543.7 1608.0,588.6 1610.5,611.0 1612.5,611.0 1614.7,611.0 1615.7,566.1 1617.8,588.6 1628.0,588.6 1630.5,588.6 1633.3,543.7 1636.4,543.7 1638.0,588.6 1641.0,588.6 1645.0,588.6 1648.7,633.5 1652.0,633.5 1655.8,633.5 1658.0,611.0 1660.7,588.6 1663.5,588.6 1666.0,633.5 1669.0,611.0 1671.3,633.5 1675.2,588.6 1679.0,633.5 1683.0,655.9 1688.7,655.9 1694.5,611.0 1698.4,655.9 1701.0,633.5 1704.0,655.9 1708.0,655.9 1716.0,633.5 1721.7,633.5 1724.0,655.9 1731.0,655.9 1739.0,611.0 1743.0,633.5 1747.0,633.5 1751.0,655.9 1758.0,655.9 1761.3,633.5 1764.0,678.4 1767.0,655.9 1770.0,678.4 1773.0,655.9 1775.0,633.5 1777.0,655.9 1779.0,655.9 1781.0,678.4 1783.0,655.9 1785.0,633.5 1787.0,655.9 1789.5,655.9 1791.5,678.4 1793.5,655.9 1797.0,655.9 1800.0,633.5 1803.0,655.9 1805.0,678.4 1807.0,655.9 1809.0,678.4 1812.0,678.4 1814.0,655.9 1816.0,678.4 1820.0,678.4 1822.0,655.9 1824.0,655.9 1826.0,678.4 1830.0,678.4 1832.0,655.9 1834.0,678.4 1846.0,678.4 1848.0,655.9 1850.6,655.9 1852.6,678.4 1854.5,655.9 1858.0,655.9 1860.0,678.4 1862.0,678.4 1864.0,655.9 1866.0,678.4 1868.0,655.9 1870.0,655.9 1872.0,678.4 1877.0,678.4 1878.6,655.9 1881.0,655.9 1883.0,678.4 1885.0,655.9 1888.0,655.9 1890.0,678.4 1896.0,678.4 1898.0,655.9 1900.5,678.4 1902.5,655.9 1905.0,655.9 1907.6,678.4 1917.0,678.4 1919.0,655.9 1923.0,655.9 1925.0,678.4 1927.0,678.4 1929.0,655.9 1931.0,678.4 2033.0,678.4 2034.8,655.9 2036.5,655.9" fill="none" stroke="#7dff2a" stroke-width="3.00" stroke-linejoin="miter" stroke-miterlimit="2.5" clip-path="url(#clipb)"/>
<polyline points="1177.3,678.4 1179.4,678.4 1181.6,678.4 1183.7,678.4 1185.9,678.4 1188.0,678.4 1190.2,678.4 1192.3,678.4 1194.5,678.4 1196.6,678.4 1198.8,678.4 1200.9,678.4 1203.1,678.4 1205.2,678.4 1207.4,678.4 1209.5,678.4 1211.7,678.4 1213.8,678.4 1216.0,678.4 1218.1,678.4 1220.3,678.4 1222.4,678.4 1224.6,678.4 1226.7,678.4 1228.9,678.4 1231.0,678.4 1233.1,678.4 1235.3,678.4 1237.4,678.4 1239.6,678.4 1241.7,678.4 1243.9,678.4 1246.0,678.4 1248.2,678.4 1250.3,678.4 1252.5,678.4 1254.6,678.4 1256.8,678.4 1258.9,678.4 1261.1,678.4 1263.2,678.4 1265.4,678.4 1267.5,678.4 1269.7,678.4 1271.8,678.4 1274.0,678.4 1276.1,678.4 1278.3,678.4 1280.4,678.4 1282.6,678.4 1284.7,678.4 1286.8,678.4 1289.0,678.4 1291.1,678.4 1293.3,678.4 1295.4,678.4 1297.6,678.4 1299.7,678.4 1301.9,678.4 1304.0,678.4 1306.2,678.4 1308.3,678.4 1310.5,678.4 1312.6,678.4 1314.8,678.4 1316.9,678.4 1319.1,678.4 1321.2,678.4 1323.4,655.9 1325.5,655.9 1327.7,655.9 1329.8,655.9 1332.0,655.9 1334.1,678.4 1336.3,655.9 1338.4,655.9 1340.5,678.4 1342.7,655.9 1344.8,655.9 1347.0,678.4 1349.1,678.4 1351.3,678.4 1353.4,655.9 1355.6,678.4 1357.7,655.9 1359.9,655.9 1362.0,655.9 1364.2,655.9 1366.3,678.4 1368.5,655.9 1370.6,655.9 1372.8,678.4 1374.9,678.4 1377.1,655.9 1379.2,655.9 1381.4,678.4 1383.5,678.4 1385.7,655.9 1387.8,678.4 1390.0,655.9 1392.1,678.4 1394.2,655.9 1396.4,655.9 1398.5,678.4 1400.7,678.4 1402.8,655.9 1405.0,655.9 1407.1,655.9 1409.3,678.4 1411.4,655.9 1413.6,655.9 1415.7,655.9 1417.9,678.4 1420.0,655.9 1422.2,655.9 1424.3,655.9 1426.5,655.9 1428.6,655.9 1430.8,678.4 1432.9,655.9 1435.1,678.4 1437.2,655.9 1439.4,678.4 1441.5,655.9 1443.7,678.4 1445.8,678.4 1447.9,655.9 1450.1,678.4 1452.2,655.9 1454.4,678.4 1456.5,678.4 1458.7,655.9 1460.8,655.9 1463.0,655.9 1465.1,655.9 1466.0,655.9 1467.0,633.5 1469.5,633.5 1471.5,655.9 1473.5,633.5 1477.0,633.5 1479.0,678.4 1480.2,655.9 1482.3,655.9 1484.5,655.9 1486.6,678.4 1488.8,678.4 1490.9,655.9 1493.1,655.9 1495.2,678.4 1497.4,678.4 1499.5,655.9 1501.6,655.9 1503.8,678.4 1505.9,655.9 1508.1,655.9 1510.2,678.4 1512.4,678.4 1514.5,655.9 1516.7,678.4 1518.8,678.4 1521.0,655.9 1523.1,678.4 1525.3,678.4 1527.0,655.9 1529.0,633.5 1531.0,633.5 1533.5,655.9 1535.5,655.9 1537.5,633.5 1540.5,633.5 1542.5,655.9 1544.5,655.9 1546.0,633.5 1548.5,633.5 1550.0,655.9 1553.0,655.9 1555.0,633.5 1563.0,633.5 1564.5,655.9 1567.5,655.9 1569.0,633.5 1573.0,633.5 1574.5,655.9 1576.5,633.5 1578.5,611.0 1580.5,633.5 1583.0,633.5 1584.7,611.0 1586.5,633.5 1595.0,633.5 1596.0,655.9 1597.5,633.5 1598.5,611.0 1601.0,611.0 1602.5,633.5 1604.0,611.0 1605.5,611.0 1607.4,588.6 1611.6,588.6 1613.0,611.0 1614.7,655.9 1616.5,633.5 1617.8,633.5 1619.8,588.6 1622.0,611.0 1624.0,588.6 1626.0,611.0 1628.0,588.6 1629.1,566.1 1631.0,588.6 1632.5,588.6 1634.3,633.5 1636.5,611.0 1639.4,588.6 1641.5,611.0 1643.6,633.5 1647.7,633.5 1648.7,566.1 1650.5,588.6 1652.0,566.1 1654.0,588.6 1656.0,566.1 1658.0,588.6 1660.0,566.1 1662.0,588.6 1664.0,566.1 1666.0,588.6 1668.0,566.1 1670.0,588.6 1672.0,566.1 1674.0,588.6 1677.0,566.1 1679.0,588.6 1681.0,521.2 1684.0,566.1 1687.8,476.3 1690.0,498.8 1692.6,543.7 1695.0,543.7 1697.4,498.8 1699.5,521.2 1701.3,566.1 1703.5,521.2 1705.5,521.2 1708.0,566.1 1713.0,409.0 1716.8,498.8 1718.5,453.9 1720.7,453.9 1724.6,543.7 1727.0,498.8 1729.0,521.2 1735.0,521.2 1739.0,409.0 1742.0,498.8 1745.0,566.1 1748.8,588.6 1752.6,521.2 1756.5,588.6 1758.5,543.7 1760.4,521.2 1762.5,543.7 1764.5,543.7 1766.2,566.1 1768.0,543.7 1773.0,543.7 1775.9,543.7 1777.8,588.6 1783.0,588.6 1786.0,566.1 1789.0,611.0 1791.0,566.1 1795.0,588.6 1797.0,588.6 1801.0,633.5 1805.0,633.5 1806.5,611.0 1812.0,611.0 1814.0,588.6 1820.0,588.6 1822.0,611.0 1824.0,588.6 1832.0,588.6 1833.7,633.5 1836.0,633.5 1838.0,611.0 1843.0,611.0 1845.0,633.5 1850.0,633.5 1852.5,611.0 1857.0,611.0 1859.0,633.5 1861.0,633.5 1862.0,611.0 1865.0,611.0 1866.5,655.9 1868.5,655.9 1869.5,633.5 1872.0,633.5 1873.0,655.9 1875.0,655.9 1876.7,611.0 1878.6,611.0 1880.0,633.5 1882.5,633.5 1883.5,655.9 1886.4,655.9 1888.0,633.5 1892.0,633.5 1894.0,655.9 1912.5,655.9 1913.4,678.4 1916.3,678.4 1917.5,633.5 1920.2,611.0 1922.0,633.5 1924.0,655.9 1939.5,655.9 1940.5,678.4 1942.0,678.4 1944.1,678.4 1946.3,678.4 1948.4,678.4 1950.6,655.9 1952.7,678.4 1954.9,678.4 1957.0,678.4 1959.2,655.9 1961.3,655.9 1963.5,678.4 1965.6,678.4 1967.8,655.9 1969.9,655.9 1972.1,678.4 1974.2,678.4 1976.4,678.4 1978.5,655.9 1980.7,678.4 1982.8,655.9 1984.9,655.9 1987.1,655.9 1989.2,678.4 1991.4,655.9 1993.5,655.9 1995.7,678.4 1997.8,678.4 2000.0,678.4 2002.1,655.9 2004.3,678.4 2006.4,678.4 2008.6,655.9 2010.7,678.4 2012.9,655.9 2015.0,655.9 2017.2,655.9 2019.3,678.4 2021.5,678.4 2023.6,678.4 2025.8,678.4 2027.9,678.4 2030.1,655.9 2032.2,678.4 2034.4,678.4 2036.5,655.9" fill="none" stroke="#c81a14" stroke-width="3.00" stroke-linejoin="miter" stroke-miterlimit="2.5" clip-path="url(#clipb)"/>
<polyline points="101.2,1447.5 102.5,1447.9 103.8,1446.9 105.1,1447.3 106.4,1447.1 107.7,1447.0 109.0,1441.7 110.3,1446.2 111.6,1449.2 112.9,1450.2 114.2,1450.8 115.5,1452.0 116.8,1451.7 118.1,1452.0 119.4,1450.2 120.7,1450.5 122.0,1449.5 123.3,1449.0 124.6,1446.3 125.9,1443.8 127.2,1442.0 128.5,1439.3 129.8,1433.1 131.1,1428.4 132.4,1423.4 133.7,1418.6 135.0,1412.9 136.3,1408.3 137.6,1403.9 138.9,1401.8 140.2,1397.8 141.5,1395.3 142.8,1393.1 144.1,1389.6 145.4,1386.9 146.7,1383.4 148.0,1378.6 149.3,1372.3 150.6,1364.7 151.9,1359.3 153.2,1353.2 154.5,1345.8 155.8,1336.4 157.1,1328.4 158.4,1320.1 159.7,1314.7 161.0,1309.3 162.3,1288.7 163.6,1264.7 164.9,1216.1 166.2,1154.8 167.5,1065.7 168.8,931.9 170.1,875.7 171.4,856.8 172.7,853.7 174.0,859.3 175.3,901.6 176.6,948.6 177.9,1042.1 179.2,1052.6 180.5,1096.5 181.8,1144.9 183.1,1195.2 184.4,1248.0 185.7,1276.8 187.0,1294.0 188.3,1310.8 189.6,1327.3 190.9,1342.5 192.2,1358.0 193.5,1369.7 194.8,1382.5 196.1,1393.7 197.4,1400.6 198.7,1407.6 200.0,1416.1 201.3,1422.7 202.6,1426.3 203.9,1429.3 205.2,1432.5 206.5,1435.2 207.8,1438.4 209.1,1439.6 210.4,1440.3 211.7,1442.0 213.0,1442.2 214.3,1443.8 215.6,1444.1 216.9,1444.9 218.2,1444.9 219.5,1446.5 220.8,1446.2 222.1,1446.8 223.4,1446.9 224.7,1447.1 226.0,1448.5 227.3,1448.4 228.6,1448.0 229.9,1449.3 231.2,1449.3 232.5,1450.0 233.8,1450.9 235.1,1450.6 236.4,1451.7 237.7,1451.7 239.0,1451.3 240.3,1452.9 241.6,1452.5 242.9,1452.9 244.2,1451.7 245.5,1451.6 246.8,1452.6 248.1,1452.3 249.4,1451.3 250.7,1452.2 252.0,1452.2 253.3,1452.4 254.6,1452.0 255.9,1451.2 257.2,1451.0 258.5,1450.9 259.8,1450.9 261.1,1451.1 262.4,1451.9 263.7,1451.4 265.0,1451.4 266.3,1451.8 267.6,1450.7 268.9,1450.9 270.2,1451.3 271.5,1451.7 272.8,1451.1 274.1,1450.4 275.4,1451.7 276.7,1451.2 278.0,1452.3 279.3,1452.0 280.6,1452.9 281.9,1453.0 283.2,1453.0 284.5,1452.7 285.8,1452.9 287.1,1453.2 288.4,1453.4 289.7,1453.8 291.0,1454.2 292.3,1455.1 293.6,1455.2 294.9,1454.7 296.2,1455.1 297.5,1456.6 298.8,1456.2 300.1,1455.8 301.4,1455.9 302.7,1456.7 304.0,1456.0 305.3,1456.6 306.6,1457.2 307.9,1457.1 309.2,1456.3 310.5,1456.7 311.8,1456.9 313.1,1457.3 314.4,1456.4 315.7,1456.3 317.0,1456.4 318.3,1457.1 319.6,1457.3 320.9,1457.3 322.2,1457.0 323.5,1458.0 324.8,1457.5 326.1,1457.3 327.4,1457.6 328.7,1457.9 330.0,1457.9 331.3,1457.4 332.6,1457.2 333.9,1457.7 335.2,1458.1 336.5,1457.6 337.8,1458.4 339.1,1457.5 340.4,1457.8 341.7,1458.5 343.0,1457.7 344.3,1458.3 345.6,1458.2 346.9,1458.7 348.2,1457.8 349.5,1457.6 350.8,1458.5 352.1,1458.6 353.4,1458.8 354.7,1458.8 356.0,1457.5 357.3,1457.9 358.6,1458.4 359.9,1458.9 361.2,1458.9 362.5,1458.3 363.8,1458.9 365.1,1458.5 366.4,1458.1 367.7,1458.3 369.0,1458.5 370.3,1458.4 371.6,1458.9 372.9,1458.9 374.2,1458.2 375.5,1459.0 376.8,1457.9 378.1,1457.8 379.4,1457.9 380.7,1458.4 382.0,1457.7 383.3,1459.0 384.6,1458.9 385.9,1457.7 387.2,1458.0 388.5,1458.2 389.8,1457.9 391.1,1458.9 392.4,1458.2 393.7,1459.1 395.0,1458.6 396.3,1459.0 397.6,1459.0 398.9,1459.1 400.2,1458.5 401.5,1458.6 402.8,1459.0 404.1,1458.2 405.4,1458.5 406.7,1458.7 408.0,1457.9 409.3,1458.7 410.6,1458.5 411.9,1459.0 413.2,1458.3 414.5,1459.2 415.8,1458.7 417.1,1458.2 418.4,1459.0 419.7,1458.8 421.0,1458.0 422.3,1458.6 423.6,1458.9 424.9,1459.3 426.2,1458.0 427.5,1459.4 428.8,1458.5 430.1,1459.4 431.4,1458.9 432.7,1459.2 434.0,1458.9 435.3,1458.9 436.6,1458.5 437.9,1458.9 439.2,1459.1 440.5,1459.3 441.8,1459.2 443.1,1459.1 444.4,1459.3 445.7,1458.6 447.0,1459.1 448.3,1458.8 449.6,1458.7 450.9,1458.7 452.2,1458.7 453.5,1458.6 454.8,1459.1 456.1,1458.8 457.4,1459.6 458.7,1459.2 460.0,1458.5 461.3,1458.8 462.6,1458.7 463.9,1459.4 465.2,1459.5 466.5,1459.5 467.8,1459.2 469.1,1458.7 470.4,1458.7 471.7,1459.5 473.0,1459.1 474.3,1459.4 475.6,1459.1 476.9,1459.4 478.2,1459.1 479.5,1459.4 480.8,1459.2 482.1,1459.0 483.4,1458.9 484.7,1458.5 486.0,1458.9 487.3,1458.5 488.6,1459.8 489.9,1458.7 491.2,1459.6 492.5,1459.7 493.8,1459.4 495.1,1459.3 496.4,1458.7 497.7,1459.1 499.0,1459.0 500.3,1458.8 501.6,1459.3 502.9,1458.9 504.2,1459.8 505.5,1459.8 506.8,1458.9 508.1,1458.7 509.4,1458.8 510.7,1459.2 512.0,1459.5 513.3,1458.8 514.6,1458.9 515.9,1459.7 517.2,1459.1 518.5,1459.4 519.8,1458.9 521.1,1458.7 522.4,1459.3 523.7,1459.2 525.0,1458.7 526.3,1459.4 527.6,1459.3 528.9,1459.5 530.2,1458.7 531.5,1459.6 532.8,1458.9 534.1,1459.3 535.4,1459.6 536.7,1458.6 538.0,1459.0 539.3,1459.8 540.6,1459.7 541.9,1459.3 543.2,1459.8 544.5,1459.9 545.8,1459.7 547.1,1459.8 548.4,1458.7 549.7,1459.5 551.0,1459.6 552.3,1459.4 553.6,1459.7 554.9,1458.6 556.2,1459.7 557.5,1459.6 558.8,1458.9 560.1,1458.9 561.4,1459.5 562.7,1459.1 564.0,1459.7 565.3,1459.2 566.6,1459.7 567.9,1460.0 569.2,1459.0 570.5,1458.8 571.8,1459.9 573.1,1459.4 574.4,1460.0 575.7,1459.5 577.0,1460.0 578.3,1459.4 579.6,1459.3 580.9,1458.8 582.2,1459.1 583.5,1458.6 584.8,1458.8 586.1,1459.7 587.4,1458.7 588.7,1459.1 590.0,1459.8 591.3,1459.6 592.6,1459.6 593.9,1458.9 595.2,1459.2 596.5,1459.4 597.8,1460.0 599.1,1458.9 600.4,1459.0 601.7,1459.0 603.0,1459.7 604.3,1459.3 605.6,1458.7 606.9,1459.4 608.2,1458.9 609.5,1459.8 610.8,1459.1 612.1,1458.7 613.4,1459.5 614.7,1459.8 616.0,1459.2 617.3,1459.7 618.6,1459.4 619.9,1459.4 621.2,1460.0 622.5,1459.8 623.8,1458.7 625.1,1459.7 626.4,1459.3 627.7,1460.0 629.0,1459.0 630.3,1459.0 631.6,1458.8 632.9,1459.3 634.2,1458.8 635.5,1459.6 636.8,1459.8 638.1,1459.7 639.4,1459.8 640.7,1459.2 642.0,1459.9 643.3,1459.3 644.6,1459.8 645.9,1459.6 647.2,1458.9 648.5,1458.8 649.8,1458.7 651.1,1458.8 652.4,1459.3 653.7,1458.9 655.0,1458.7 656.3,1459.8 657.6,1459.3 658.9,1459.8 660.2,1459.3 661.5,1459.3 662.8,1459.4 664.1,1459.4 665.4,1459.8 666.7,1459.3 668.0,1460.0 669.3,1458.8 670.6,1459.8 671.9,1458.9 673.2,1459.6 674.5,1458.7 675.8,1459.5 677.1,1458.7 678.4,1460.1 679.7,1460.0 681.0,1459.9 682.3,1460.0 683.6,1458.9 684.9,1459.0 686.2,1459.0 687.5,1459.6 688.8,1460.0 690.1,1460.1 691.4,1459.7 692.7,1459.8 694.0,1460.0 695.3,1459.3 696.6,1459.1 697.9,1459.0 699.2,1458.9 700.5,1459.9 701.8,1459.0 703.1,1459.1 704.4,1459.9 705.7,1459.2 707.0,1460.1 708.3,1459.1 709.6,1459.5 710.9,1459.2 712.2,1460.1 713.5,1459.3 714.8,1459.4 716.1,1459.5 717.4,1460.1 718.7,1458.8 720.0,1459.8 721.3,1460.0 722.6,1458.8 723.9,1459.5 725.2,1459.3 726.5,1460.0 727.8,1459.6 729.1,1459.8 730.4,1459.4 731.7,1459.7 733.0,1459.2 734.3,1458.8 735.6,1459.6 736.9,1459.2 738.2,1459.5 739.5,1460.1 740.8,1459.4 742.1,1459.2 743.4,1459.3 744.7,1460.1 746.0,1460.1 747.3,1460.0 748.6,1460.1 749.9,1459.1 751.2,1459.0 752.5,1459.1 753.8,1459.3 755.1,1459.1 756.4,1459.7 757.7,1459.4 759.0,1460.0 760.3,1459.1 761.6,1459.8 762.9,1459.2 764.2,1459.6 765.5,1459.3 766.8,1458.9 768.1,1459.2 769.4,1459.8 770.7,1459.5 772.0,1459.6 773.3,1459.1 774.6,1459.7 775.9,1460.3 777.2,1460.0 778.5,1459.7 779.8,1460.2 781.1,1460.1 782.4,1459.7 783.7,1458.9 785.0,1459.0 786.3,1459.0 787.6,1459.5 788.9,1459.4 790.2,1460.2 791.5,1459.1 792.8,1460.2 794.1,1460.0 795.4,1460.0 796.7,1459.8 798.0,1459.8 799.3,1459.6 800.6,1458.9 801.9,1459.4 803.2,1459.6 804.5,1459.9 805.8,1459.6 807.1,1459.5 808.4,1459.1 809.7,1458.9 811.0,1460.0 812.3,1459.4 813.6,1460.3 814.9,1459.2 816.2,1459.4 817.5,1459.6 818.8,1460.0 820.1,1459.6 821.4,1459.1 822.7,1459.4 824.0,1459.6 825.3,1459.9 826.6,1460.0 827.9,1459.1 829.2,1459.0 830.5,1459.7 831.8,1460.1 833.1,1459.0 834.4,1459.9 835.7,1459.9 837.0,1459.6 838.3,1460.2 839.6,1459.8 840.9,1459.0 842.2,1459.6 843.5,1460.2 844.8,1460.1 846.1,1459.9 847.4,1459.9 848.7,1459.8 850.0,1459.3 851.3,1459.7 852.6,1459.9 853.9,1459.5 855.2,1460.2 856.5,1459.2 857.8,1460.0 859.1,1459.4 860.4,1460.1 861.7,1459.6 863.0,1460.1 864.3,1459.5 865.6,1459.3 866.9,1460.1 868.2,1459.4 869.5,1460.0 870.8,1460.0 872.1,1459.3 873.4,1459.3 874.7,1459.3 876.0,1459.2 877.3,1459.5 878.6,1459.0 879.9,1459.2 881.2,1459.9 882.5,1460.1 883.8,1459.1 885.1,1459.3 886.4,1459.3 887.7,1460.3 889.0,1460.0 890.3,1459.8 891.6,1459.4 892.9,1460.2 894.2,1459.6 895.5,1460.3 896.8,1460.0 898.1,1459.7 899.4,1459.2 900.7,1460.4 902.0,1459.2 903.3,1459.3 904.6,1459.6 905.9,1459.6 907.2,1459.2 908.5,1460.1 909.8,1459.3 911.1,1459.9 912.4,1460.1 913.7,1459.3 915.0,1459.9 916.3,1460.1 917.6,1459.9 918.9,1459.9 920.2,1459.5 921.5,1460.1 922.8,1460.4 924.1,1459.6 925.4,1460.1 926.7,1459.1 928.0,1460.2 929.3,1459.3 930.6,1459.6 931.9,1459.5 933.2,1459.2 934.5,1460.3 935.8,1459.6 937.1,1459.8 938.4,1459.8 939.7,1459.3 941.0,1459.4 942.3,1459.2 943.6,1459.8 944.9,1459.4 946.2,1459.6 947.5,1459.2 948.8,1460.2 950.1,1459.2 951.4,1460.5 952.7,1459.3 954.0,1459.9 955.3,1459.2 956.6,1460.2 957.9,1459.4 959.2,1459.8" fill="none" stroke="#2200d8" stroke-width="2.70" stroke-linejoin="round" stroke-miterlimit="2.5" clip-path="url(#clipc)"/>
<polyline points="101.2,1410.8 102.5,1412.5 103.7,1418.0 105.0,1420.4 106.2,1421.1 107.5,1421.5 108.7,1421.8 110.0,1424.3 111.2,1423.7 112.5,1424.4 113.7,1426.7 115.0,1426.9 116.2,1425.9 117.5,1428.1 118.7,1427.4 120.0,1430.5 121.2,1431.4 122.5,1430.5 123.7,1432.4 125.0,1427.8 126.2,1428.2 127.5,1424.9 128.7,1425.0 129.9,1422.2 131.2,1421.0 132.4,1421.5 133.7,1417.9 134.9,1414.9 136.2,1412.9 137.4,1411.0 138.7,1409.0 139.9,1405.3 141.2,1404.7 142.4,1401.4 143.7,1396.1 144.9,1390.2 146.2,1386.5 147.4,1380.2 148.7,1373.0 149.9,1369.9 151.2,1365.6 152.4,1358.3 153.7,1354.5 154.9,1346.8 156.2,1342.4 157.4,1336.0 158.7,1330.1 159.9,1325.5 161.2,1318.5 162.4,1314.2 163.7,1296.1 164.9,1277.4 166.2,1259.4 167.4,1229.9 168.7,1196.4 169.9,1166.1 171.2,1138.5 172.4,1113.7 173.7,1092.3 174.9,1040.0 176.2,1022.6 177.4,1007.3 178.7,1002.6 179.9,994.7 181.2,989.9 182.4,985.7 183.7,981.6 184.9,979.8 186.2,994.2 187.4,991.4 188.7,991.2 189.9,995.5 191.2,1001.9 192.4,1006.4 193.7,1011.5 194.9,1015.7 196.2,1028.9 197.4,1034.8 198.7,1043.0 199.9,1045.8 201.2,1054.6 202.4,1063.3 203.7,1072.6 204.9,1078.0 206.2,1079.4 207.4,1080.0 208.7,1080.8 209.9,1086.5 211.2,1095.0 212.4,1098.1 213.7,1102.7 214.9,1105.3 216.2,1111.9 217.4,1115.2 218.7,1117.3 219.9,1122.1 221.2,1125.8 222.4,1128.6 223.7,1129.2 224.9,1134.9 226.2,1137.1 227.4,1137.1 228.7,1142.2 229.9,1143.3 231.2,1145.2 232.4,1145.8 233.7,1146.1 234.9,1150.7 236.2,1150.7 237.4,1150.7 238.7,1151.4 239.9,1155.1 241.2,1154.1 242.4,1155.7 243.7,1159.6 244.9,1169.8 246.2,1175.6 247.4,1174.7 248.7,1177.4 249.9,1177.9 251.2,1179.1 252.4,1180.7 253.7,1179.7 254.9,1180.4 256.2,1181.0 257.4,1182.6 258.7,1182.5 259.9,1186.3 261.2,1186.1 262.4,1186.9 263.7,1187.8 264.9,1189.8 266.2,1190.8 267.4,1192.3 268.7,1194.4 269.9,1196.0 271.2,1198.4 272.4,1200.0 273.7,1196.9 274.9,1198.5 276.2,1201.0 277.4,1199.8 278.7,1203.6 279.9,1201.6 281.2,1204.6 282.4,1205.1 283.7,1206.5 284.9,1204.1 286.2,1205.7 287.4,1208.5 288.7,1206.7 289.9,1207.3 291.2,1209.4 292.4,1210.8 293.7,1208.9 294.9,1209.3 296.2,1209.6 297.4,1211.4 298.7,1212.9 299.9,1211.3 301.2,1214.5 302.4,1213.0 303.7,1214.2 304.9,1213.1 306.2,1214.9 307.4,1216.6 308.7,1214.9 309.9,1214.2 311.2,1215.5 312.4,1215.9 313.7,1216.5 314.9,1216.9 316.2,1215.2 317.4,1216.1 318.7,1217.6 319.9,1219.0 321.2,1219.7 322.4,1220.0 323.7,1219.2 324.9,1221.4 326.2,1219.1 327.4,1220.1 328.7,1221.5 329.9,1222.5 331.2,1222.3 332.4,1225.7 333.7,1225.6 334.9,1228.4 336.2,1227.0 337.4,1228.7 338.7,1234.2 339.9,1232.3 341.2,1236.6 342.4,1237.1 343.7,1238.8 344.9,1241.7 346.2,1246.0 347.4,1246.6 348.7,1250.1 349.9,1251.5 351.2,1253.0 352.4,1255.3 353.7,1256.5 354.9,1257.9 356.2,1262.0 357.4,1265.0 358.7,1268.7 359.9,1270.3 361.2,1273.8 362.4,1277.0 363.7,1279.8 364.9,1282.1 366.2,1282.0 367.4,1285.7 368.7,1287.9 369.9,1293.4 371.2,1295.9 372.4,1296.8 373.7,1300.5 374.9,1304.3 376.2,1307.2 377.4,1307.3 378.7,1312.3 379.9,1315.4 381.2,1315.6 382.4,1319.3 383.7,1324.1 384.9,1326.7 386.2,1332.9 387.4,1335.6 388.7,1339.1 389.9,1342.7 391.2,1344.3 392.4,1346.2 393.7,1349.9 394.9,1351.1 396.2,1355.4 397.4,1356.2 398.7,1357.2 399.9,1361.2 401.2,1362.9 402.4,1365.8 403.7,1372.1 404.9,1374.5 406.2,1377.1 407.4,1382.1 408.7,1386.4 409.9,1386.5 411.2,1391.9 412.4,1392.8 413.7,1390.8 414.9,1394.4 416.2,1393.4 417.4,1392.7 418.7,1395.0 419.9,1394.6 421.2,1394.7 422.4,1395.0 423.7,1397.0 424.9,1399.8 426.2,1402.6 427.4,1402.1 428.7,1406.4 429.9,1404.6 431.2,1405.7 432.4,1408.8 433.7,1410.3 434.9,1411.5 436.2,1410.9 437.4,1410.9 438.7,1410.1 439.9,1412.8 441.2,1412.0 442.4,1414.2 443.7,1415.4 444.9,1417.1 446.2,1415.8 447.4,1419.3 448.7,1420.1 449.9,1420.2 451.2,1420.5 452.4,1421.4 453.7,1422.7 454.9,1423.8 456.2,1424.1 457.4,1424.0 458.7,1422.3 459.9,1425.4 461.2,1425.0 462.4,1425.0 463.7,1428.8 464.9,1429.2 466.2,1428.5 467.4,1428.6 468.7,1429.1 469.9,1428.5 471.2,1429.5 472.4,1430.0 473.7,1428.6 474.9,1432.7 476.2,1429.5 477.4,1431.3 478.7,1430.5 479.9,1431.3 481.2,1434.8 482.4,1432.8 483.7,1434.7 484.9,1432.5 486.2,1433.4 487.4,1436.4 488.7,1436.9 489.9,1434.7 491.2,1437.9 492.4,1437.0 493.7,1436.7 494.9,1436.5 496.2,1436.6 497.4,1439.4 498.7,1438.6 499.9,1438.1 501.2,1436.3 502.4,1437.4 503.7,1440.6 504.9,1439.2 506.2,1438.6 507.4,1437.4 508.7,1438.7 509.9,1439.0 511.2,1438.9 512.5,1439.8 513.7,1439.5 515.0,1439.2 516.2,1439.6 517.5,1441.5 518.7,1439.9 520.0,1443.8 521.2,1441.0 522.5,1442.3 523.7,1442.3 525.0,1442.0 526.2,1442.3 527.5,1442.0 528.7,1442.5 530.0,1442.0 531.2,1444.6 532.5,1444.6 533.7,1443.4 535.0,1446.0 536.2,1444.1 537.5,1445.2 538.7,1445.0 540.0,1444.4 541.2,1447.1 542.5,1447.0 543.7,1447.1 545.0,1447.8 546.2,1444.0 547.5,1446.2 548.7,1448.3 550.0,1445.1 551.2,1445.8 552.5,1447.0 553.7,1447.9 555.0,1446.6 556.2,1446.6 557.5,1448.7 558.7,1445.8 560.0,1449.1 561.2,1447.7 562.5,1448.7 563.7,1449.2 565.0,1446.8 566.2,1450.3 567.5,1450.1 568.7,1448.4 570.0,1447.8 571.2,1447.4 572.5,1448.6 573.7,1450.4 575.0,1451.0 576.2,1449.1 577.5,1448.8 578.7,1449.4 580.0,1452.2 581.2,1448.6 582.5,1449.0 583.7,1451.3 585.0,1449.0 586.2,1449.6 587.5,1451.9 588.7,1449.9 590.0,1451.2 591.2,1451.2 592.5,1450.0 593.7,1450.0 595.0,1450.2 596.2,1452.8 597.5,1449.2 598.7,1449.6 600.0,1450.8 601.2,1450.3 602.5,1451.8 603.7,1451.8 605.0,1451.7 606.2,1451.0 607.5,1451.9 608.7,1453.1 610.0,1453.3 611.2,1452.2 612.5,1453.4 613.7,1450.2 615.0,1450.8 616.2,1453.3 617.5,1451.8 618.7,1451.6 620.0,1452.7 621.2,1452.0 622.5,1454.3 623.7,1452.1 625.0,1454.1 626.2,1453.2 627.5,1454.5 628.7,1452.8 630.0,1454.8 631.2,1453.3 632.5,1451.0 633.7,1454.1 635.0,1454.6 636.2,1451.5 637.5,1455.2 638.7,1453.6 640.0,1454.4 641.2,1452.3 642.5,1455.3 643.7,1454.1 645.0,1453.8 646.2,1455.6 647.5,1453.9 648.7,1453.9 650.0,1451.9 651.2,1454.1 652.5,1455.0 653.7,1453.4 655.0,1454.8 656.2,1454.4 657.5,1452.9 658.7,1454.4 660.0,1454.2 661.2,1453.6 662.5,1455.1 663.7,1452.6 665.0,1454.0 666.2,1454.3 667.5,1456.6 668.7,1455.4 670.0,1455.2 671.2,1453.2 672.5,1454.4 673.7,1454.2 675.0,1456.6 676.2,1454.6 677.5,1456.3 678.7,1455.5 680.0,1456.5 681.2,1452.8 682.5,1456.7 683.7,1456.9 685.0,1453.6 686.2,1453.2 687.5,1454.3 688.7,1455.5 690.0,1455.2 691.2,1454.9 692.5,1456.9 693.7,1455.5 695.0,1457.1 696.2,1455.6 697.5,1454.0 698.7,1457.4 700.0,1457.5 701.2,1455.2 702.5,1456.6 703.7,1456.1 705.0,1454.2 706.2,1455.9 707.5,1456.2 708.7,1456.0 710.0,1455.8 711.2,1456.1 712.5,1456.6 713.7,1456.9 715.0,1454.1 716.2,1457.6 717.5,1455.6 718.7,1456.7 720.0,1455.4 721.2,1454.1 722.5,1456.7 723.7,1455.4 725.0,1456.3 726.2,1455.1 727.5,1454.9 728.7,1455.3 730.0,1457.6 731.2,1458.0 732.5,1458.2 733.7,1455.9 735.0,1457.4 736.2,1454.9 737.5,1457.4 738.7,1456.1 740.0,1457.9 741.2,1455.2 742.5,1457.8 743.7,1454.7 745.0,1458.0 746.2,1456.3 747.5,1455.1 748.7,1455.8 750.0,1457.6 751.2,1456.5 752.5,1455.6 753.7,1455.6 755.0,1457.6 756.2,1457.4 757.5,1455.0 758.7,1458.1 760.0,1455.3 761.2,1455.7 762.5,1454.8 763.7,1456.9 765.0,1458.4 766.2,1458.7 767.5,1456.8 768.7,1455.3 770.0,1456.8 771.2,1456.1 772.5,1456.2 773.7,1455.9 775.0,1458.9 776.2,1456.6 777.5,1455.0 778.7,1457.0 780.0,1457.9 781.2,1458.4 782.5,1458.2 783.7,1458.0 785.0,1455.9 786.2,1456.5 787.5,1457.0 788.7,1455.7 790.0,1456.9 791.2,1455.6 792.5,1455.5 793.7,1458.7 795.0,1455.9 796.2,1457.2 797.5,1457.8 798.7,1459.2 800.0,1456.5 801.2,1456.0 802.5,1459.0 803.7,1456.6 805.0,1456.5 806.2,1456.0 807.5,1457.2 808.7,1456.3 810.0,1456.9 811.2,1456.8 812.5,1458.0 813.7,1457.3 815.0,1458.3 816.2,1456.7 817.5,1456.8 818.7,1459.7 820.0,1456.5 821.2,1458.7 822.5,1458.5 823.7,1458.3 825.0,1456.1 826.2,1455.6 827.5,1458.7 828.7,1456.0 830.0,1456.7 831.2,1459.8 832.5,1459.7 833.7,1459.6 835.0,1458.2 836.2,1457.6 837.5,1457.7 838.7,1457.2 840.0,1459.8 841.2,1459.2 842.5,1460.0 843.7,1457.1 845.0,1458.3 846.2,1458.7 847.5,1457.5 848.7,1458.3 850.0,1456.7 851.2,1457.2 852.5,1456.5 853.7,1458.7 855.0,1457.4 856.2,1457.8 857.5,1457.6 858.7,1456.2 860.0,1459.8 861.2,1459.1 862.5,1457.4 863.7,1459.9 865.0,1458.9 866.2,1460.3 867.5,1458.1 868.7,1456.6 870.0,1456.7 871.2,1459.3 872.5,1458.6 873.7,1457.1 875.0,1458.5 876.2,1458.4 877.5,1459.8 878.7,1456.4 880.0,1456.7 881.2,1458.1 882.5,1456.8 883.7,1460.4 885.0,1457.1 886.2,1458.9 887.5,1458.2 888.7,1459.6 890.0,1456.5 891.2,1457.7 892.5,1458.3 893.7,1456.8 895.0,1459.0 896.2,1458.6 897.5,1459.8 898.7,1458.2 900.0,1457.6 901.2,1457.7 902.5,1457.4 903.7,1460.3 905.0,1459.8 906.2,1457.9 907.5,1458.3 908.7,1456.9 910.0,1459.0 911.2,1459.6 912.5,1457.5 913.7,1458.4 915.0,1459.4 916.2,1458.4 917.5,1458.9 918.7,1457.4 920.0,1459.9 921.2,1457.0 922.5,1458.6 923.7,1457.8 925.0,1457.0 926.2,1460.2 927.5,1457.5 928.7,1458.6 930.0,1459.2 931.2,1457.8 932.5,1458.7 933.7,1458.9 935.0,1458.6 936.2,1458.2 937.5,1457.8 938.7,1460.5 940.0,1458.9 941.2,1459.7 942.5,1459.0 943.7,1458.0 945.0,1458.8 946.2,1460.2 947.5,1460.5 948.7,1460.8 950.0,1457.7 951.2,1458.3 952.5,1457.3 953.7,1461.0 955.0,1459.5 956.2,1459.8 957.5,1458.7 958.7,1457.9 960.0,1458.5" fill="none" stroke="#7dff2a" stroke-width="3.30" stroke-linejoin="round" stroke-miterlimit="2.5" clip-path="url(#clipc)"/>
<polyline points="101.2,1420.7 102.5,1422.5 103.7,1421.8 105.0,1423.8 106.2,1426.5 107.5,1427.6 108.7,1425.4 110.0,1426.8 111.2,1427.1 112.5,1429.6 113.7,1428.8 115.0,1431.6 116.2,1433.3 117.5,1432.7 118.7,1435.3 120.0,1435.8 121.2,1434.2 122.5,1437.3 123.7,1436.9 125.0,1438.4 126.2,1438.3 127.5,1439.1 128.7,1437.1 129.9,1434.9 131.2,1435.6 132.4,1435.7 133.7,1432.8 134.9,1431.5 136.2,1431.1 137.4,1432.3 138.7,1431.4 139.9,1429.0 141.2,1428.8 142.4,1427.5 143.7,1424.4 144.9,1422.1 146.2,1423.1 147.4,1419.8 148.7,1416.1 149.9,1412.6 151.2,1410.5 152.4,1407.9 153.7,1404.2 154.9,1400.9 156.2,1397.9 157.4,1395.8 158.7,1390.9 159.9,1385.9 161.2,1382.2 162.4,1374.0 163.7,1363.5 164.9,1354.1 166.2,1344.2 167.4,1321.3 168.7,1301.9 169.9,1280.9 171.2,1262.7 172.4,1243.2 173.7,1226.3 174.9,1212.9 176.2,1198.1 177.4,1189.2 178.7,1179.2 179.9,1176.2 181.2,1172.6 182.4,1170.6 183.7,1168.9 184.9,1169.6 186.2,1172.7 187.4,1170.2 188.7,1175.5 189.9,1178.7 191.2,1183.0 192.4,1186.9 193.7,1192.3 194.9,1195.0 196.2,1199.8 197.4,1204.9 198.7,1209.2 199.9,1213.6 201.2,1218.3 202.4,1224.2 203.7,1226.8 204.9,1234.0 206.2,1235.9 207.4,1238.3 208.7,1242.0 209.9,1243.1 211.2,1248.8 212.4,1251.4 213.7,1253.9 214.9,1255.8 216.2,1260.3 217.4,1262.8 218.7,1264.8 219.9,1267.9 221.2,1268.8 222.4,1269.8 223.7,1272.6 224.9,1273.2 226.2,1274.9 227.4,1278.9 228.7,1280.8 229.9,1283.3 231.2,1284.5 232.4,1285.0 233.7,1284.2 234.9,1286.6 236.2,1289.2 237.4,1289.3 238.7,1288.8 239.9,1289.4 241.2,1289.2 242.4,1289.7 243.7,1290.1 244.9,1294.2 246.2,1293.8 247.4,1292.3 248.7,1293.9 249.9,1292.9 251.2,1294.1 252.4,1296.7 253.7,1296.9 254.9,1296.7 256.2,1296.3 257.4,1298.4 258.7,1300.2 259.9,1298.5 261.2,1297.5 262.4,1297.9 263.7,1298.5 264.9,1302.7 266.2,1301.3 267.4,1302.8 268.7,1300.2 269.9,1300.9 271.2,1302.9 272.4,1304.0 273.7,1301.9 274.9,1301.0 276.2,1304.6 277.4,1302.5 278.7,1304.8 279.9,1303.0 281.2,1306.0 282.4,1307.2 283.7,1307.4 284.9,1306.5 286.2,1308.8 287.4,1306.9 288.7,1308.3 289.9,1309.5 291.2,1312.0 292.4,1309.7 293.7,1313.4 294.9,1313.7 296.2,1315.1 297.4,1313.2 298.7,1313.3 299.9,1314.2 301.2,1317.4 302.4,1318.8 303.7,1318.4 304.9,1318.2 306.2,1318.2 307.4,1321.2 308.7,1322.1 309.9,1319.4 311.2,1320.6 312.4,1323.8 313.7,1324.5 314.9,1322.9 316.2,1323.4 317.4,1324.7 318.7,1325.8 319.9,1324.6 321.2,1328.4 322.4,1327.7 323.7,1329.4 324.9,1327.7 326.2,1331.5 327.4,1331.2 328.7,1330.1 329.9,1333.3 331.2,1332.9 332.4,1334.2 333.7,1331.5 334.9,1332.2 336.2,1335.7 337.4,1334.5 338.7,1336.0 339.9,1334.9 341.2,1338.7 342.4,1337.0 343.7,1338.7 344.9,1335.8 346.2,1337.8 347.4,1336.4 348.7,1340.1 349.9,1338.6 351.2,1337.3 352.4,1337.7 353.7,1339.9 354.9,1338.3 356.2,1339.1 357.4,1340.5 358.7,1341.0 359.9,1341.7 361.2,1342.2 362.4,1341.4 363.7,1342.8 364.9,1341.2 366.2,1342.0 367.4,1344.5 368.7,1342.1 369.9,1342.7 371.2,1343.1 372.4,1344.4 373.7,1342.7 374.9,1343.1 376.2,1345.3 377.4,1344.3 378.7,1346.8 379.9,1347.6 381.2,1347.0 382.4,1347.8 383.7,1346.8 384.9,1345.7 386.2,1347.6 387.4,1347.6 388.7,1348.9 389.9,1347.2 391.2,1347.9 392.4,1350.7 393.7,1348.7 394.9,1349.8 396.2,1352.6 397.4,1350.4 398.7,1350.5 399.9,1353.5 401.2,1353.6 402.4,1354.4 403.7,1352.6 404.9,1354.8 406.2,1353.7 407.4,1355.3 408.7,1357.9 409.9,1355.8 411.2,1357.4 412.4,1360.2 413.7,1359.8 414.9,1357.5 416.2,1358.3 417.4,1357.5 418.7,1356.5 419.9,1357.9 421.2,1355.2 422.4,1358.1 423.7,1355.0 424.9,1358.6 426.2,1358.0 427.4,1357.2 428.7,1358.4 429.9,1357.6 431.2,1359.2 432.4,1356.5 433.7,1358.4 434.9,1360.1 436.2,1360.5 437.4,1357.7 438.7,1358.0 439.9,1360.9 441.2,1358.7 442.4,1357.7 443.7,1360.6 444.9,1359.6 446.2,1361.1 447.4,1360.2 448.7,1360.5 449.9,1360.5 451.2,1360.4 452.4,1363.3 453.7,1362.7 454.9,1363.6 456.2,1364.4 457.4,1362.0 458.7,1365.2 459.9,1365.4 461.2,1364.2 462.4,1364.9 463.7,1363.3 464.9,1366.4 466.2,1364.0 467.4,1365.3 468.7,1363.3 469.9,1362.8 471.2,1364.8 472.4,1364.1 473.7,1364.6 474.9,1364.9 476.2,1365.4 477.4,1361.4 478.7,1363.5 479.9,1363.1 481.2,1363.7 482.4,1363.7 483.7,1364.1 484.9,1365.8 486.2,1364.4 487.4,1365.1 488.7,1366.1 489.9,1364.0 491.2,1365.8 492.4,1364.8 493.7,1365.3 494.9,1365.0 496.2,1366.1 497.4,1366.4 498.7,1367.9 499.9,1368.4 501.2,1369.7 502.4,1368.5 503.7,1370.5 504.9,1368.6 506.2,1370.4 507.4,1369.8 508.7,1370.4 509.9,1369.1 511.2,1372.2 512.5,1371.7 513.7,1369.4 515.0,1371.2 516.2,1373.4 517.5,1369.7 518.7,1371.0 520.0,1373.1 521.2,1370.4 522.5,1373.6 523.7,1373.1 525.0,1373.9 526.2,1373.4 527.5,1375.2 528.7,1372.9 530.0,1374.0 531.2,1372.0 532.5,1374.3 533.7,1374.0 535.0,1376.5 536.2,1376.5 537.5,1373.3 538.7,1373.1 540.0,1373.6 541.2,1374.1 542.5,1376.6 543.7,1376.0 545.0,1376.1 546.2,1376.0 547.5,1374.3 548.7,1376.1 550.0,1378.8 551.2,1378.3 552.5,1377.3 553.7,1375.9 555.0,1379.1 556.2,1377.1 557.5,1378.0 558.7,1376.4 560.0,1377.1 561.2,1377.2 562.5,1377.6 563.7,1376.1 565.0,1378.9 566.2,1377.4 567.5,1379.8 568.7,1380.5 570.0,1381.5 571.2,1380.4 572.5,1381.1 573.7,1383.6 575.0,1382.7 576.2,1382.4 577.5,1386.2 578.7,1383.0 580.0,1387.1 581.2,1384.4 582.5,1384.7 583.7,1387.1 585.0,1384.7 586.2,1385.7 587.5,1384.3 588.7,1386.3 590.0,1385.3 591.2,1384.2 592.5,1382.4 593.7,1383.4 595.0,1384.7 596.2,1384.6 597.5,1386.5 598.7,1385.9 600.0,1387.9 601.2,1388.9 602.5,1390.3 603.7,1391.4 605.0,1392.2 606.2,1391.7 607.5,1392.6 608.7,1395.2 610.0,1393.8 611.2,1396.2 612.5,1398.1 613.7,1398.6 615.0,1397.3 616.2,1396.5 617.5,1398.1 618.7,1398.6 620.0,1398.2 621.2,1397.6 622.5,1398.3 623.7,1397.0 625.0,1398.1 626.2,1397.7 627.5,1400.2 628.7,1401.6 630.0,1398.5 631.2,1398.2 632.5,1401.4 633.7,1400.0 635.0,1400.9 636.2,1399.3 637.5,1400.1 638.7,1402.5 640.0,1402.5 641.2,1403.8 642.5,1404.6 643.7,1402.4 645.0,1403.8 646.2,1403.4 647.5,1403.9 648.7,1403.8 650.0,1406.5 651.2,1405.4 652.5,1403.7 653.7,1406.3 655.0,1407.7 656.2,1407.8 657.5,1406.7 658.7,1404.7 660.0,1408.5 661.2,1409.6 662.5,1409.4 663.7,1408.7 665.0,1409.2 666.2,1411.3 667.5,1409.3 668.7,1412.7 670.0,1412.1 671.2,1411.0 672.5,1414.7 673.7,1413.6 675.0,1413.0 676.2,1413.9 677.5,1417.4 678.7,1415.1 680.0,1418.2 681.2,1418.6 682.5,1416.0 683.7,1417.9 685.0,1419.7 686.2,1418.8 687.5,1420.8 688.7,1419.1 690.0,1420.5 691.2,1419.2 692.5,1422.2 693.7,1422.5 695.0,1421.6 696.2,1420.7 697.5,1421.0 698.7,1422.2 700.0,1420.5 701.2,1422.3 702.5,1421.5 703.7,1421.9 705.0,1422.0 706.2,1424.3 707.5,1421.8 708.7,1422.2 710.0,1422.1 711.2,1421.6 712.5,1423.5 713.7,1425.5 715.0,1426.4 716.2,1425.3 717.5,1425.6 718.7,1428.1 720.0,1427.3 721.2,1428.0 722.5,1429.1 723.7,1427.3 725.0,1431.1 726.2,1428.7 727.5,1431.1 728.7,1433.3 730.0,1432.4 731.2,1431.9 732.5,1433.7 733.7,1434.7 735.0,1433.6 736.2,1431.5 737.5,1435.1 738.7,1431.7 740.0,1434.7 741.2,1435.8 742.5,1432.8 743.7,1434.6 745.0,1435.5 746.2,1433.5 747.5,1434.0 748.7,1433.4 750.0,1434.0 751.2,1434.0 752.5,1434.9 753.7,1437.0 755.0,1437.0 756.2,1437.5 757.5,1437.2 758.7,1438.0 760.0,1435.4 761.2,1437.2 762.5,1435.1 763.7,1437.1 765.0,1438.7 766.2,1437.3 767.5,1436.6 768.7,1436.6 770.0,1437.2 771.2,1439.5 772.5,1439.9 773.7,1439.0 775.0,1440.1 776.2,1439.3 777.5,1437.4 778.7,1438.1 780.0,1439.4 781.2,1439.5 782.5,1439.4 783.7,1438.7 785.0,1437.4 786.2,1440.9 787.5,1437.9 788.7,1441.2 790.0,1437.8 791.2,1441.5 792.5,1439.1 793.7,1441.0 795.0,1437.8 796.2,1439.7 797.5,1439.0 798.7,1441.0 800.0,1441.0 801.2,1440.3 802.5,1441.5 803.7,1442.7 805.0,1439.1 806.2,1441.2 807.5,1441.8 808.7,1441.8 810.0,1440.4 811.2,1443.1 812.5,1440.7 813.7,1443.3 815.0,1441.9 816.2,1440.7 817.5,1443.7 818.7,1440.8 820.0,1443.9 821.2,1443.3 822.5,1444.6 823.7,1444.5 825.0,1442.9 826.2,1442.0 827.5,1442.7 828.7,1441.7 830.0,1444.6 831.2,1442.4 832.5,1443.0 833.7,1443.4 835.0,1444.3 836.2,1445.6 837.5,1444.6 838.7,1444.9 840.0,1443.3 841.2,1444.3 842.5,1443.8 843.7,1446.1 845.0,1443.2 846.2,1445.7 847.5,1446.1 848.7,1445.4 850.0,1443.5 851.2,1444.4 852.5,1444.4 853.7,1444.6 855.0,1444.6 856.2,1447.7 857.5,1447.0 858.7,1447.4 860.0,1446.7 861.2,1445.3 862.5,1447.8 863.7,1445.9 865.0,1444.7 866.2,1447.1 867.5,1445.2 868.7,1447.6 870.0,1447.3 871.2,1445.5 872.5,1446.2 873.7,1447.4 875.0,1447.2 876.2,1446.7 877.5,1445.4 878.7,1445.9 880.0,1447.5 881.2,1446.6 882.5,1447.7 883.7,1447.7 885.0,1446.3 886.2,1445.3 887.5,1447.8 888.7,1446.5 890.0,1447.4 891.2,1445.6 892.5,1445.8 893.7,1447.0 895.0,1448.1 896.2,1445.8 897.5,1448.7 898.7,1449.0 900.0,1448.4 901.2,1448.7 902.5,1446.7 903.7,1446.1 905.0,1447.2 906.2,1446.4 907.5,1447.6 908.7,1449.2 910.0,1447.2 911.2,1449.7 912.5,1448.0 913.7,1446.9 915.0,1449.0 916.2,1448.2 917.5,1447.8 918.7,1448.6 920.0,1450.7 921.2,1449.7 922.5,1447.9 923.7,1450.6 925.0,1447.5 926.2,1448.5 927.5,1448.4 928.7,1451.1 930.0,1447.0 931.2,1449.8 932.5,1449.3 933.7,1447.8 935.0,1449.9 936.2,1450.7 937.5,1450.6 938.7,1447.8 940.0,1450.8 941.2,1449.0 942.5,1451.2 943.7,1450.0 945.0,1448.1 946.2,1450.9 947.5,1450.2 948.7,1449.8 950.0,1450.7 951.2,1449.9 952.5,1448.3 953.7,1452.0 955.0,1449.4 956.2,1449.5 957.5,1448.5 958.7,1451.4" fill="none" stroke="#c81a14" stroke-width="3.30" stroke-linejoin="round" stroke-miterlimit="2.5" clip-path="url(#clipc)"/>
<clipPath id="clipd2"><rect x="1188.40" y="785.20" width="858.90" height="674.50"/></clipPath>
<polyline points="1188.4,1458.6 1254.6,1458.3 1300.9,1455.8 1326.0,1454.8 1345.0,1453.7 1361.6,1452.5 1390.3,1449.8 1436.0,1440.9 1478.3,1427.4 1513.8,1409.6 1534.0,1396.1 1540.0,1390.3 1549.7,1379.0 1565.8,1354.8 1583.5,1317.7 1593.2,1290.3 1601.3,1259.7 1607.7,1230.6 1612.6,1203.2 1616.5,1179.8 1622.9,1139.7 1629.4,1104.2 1634.2,1080.0 1642.3,1051.0 1650.3,1025.2 1660.0,996.1 1664.8,988.1 1674.5,968.7 1687.4,946.1 1695.8,931.2 1704.0,920.7 1712.1,912.6 1720.2,900.3 1729.5,891.0 1741.2,881.2 1752.8,872.4 1763.3,865.5 1774.9,859.7 1790.0,850.9 1814.4,838.7 1823.7,835.2 1833.0,830.6 1849.3,824.2 1870.1,816.6 1876.0,814.5 1911.6,804.9 1936.4,798.6 1961.3,793.6 2003.9,787.6 2037.6,785.4 2047.3,785.2" fill="none" stroke="#2200d8" stroke-width="2.80" stroke-linejoin="round" stroke-miterlimit="2.5"/>
<circle cx="1313.3" cy="1458.3" r="13.6" fill="#000" clip-path="url(#clipd2)"/>
<circle cx="1376.0" cy="1455.6" r="13.6" fill="#000" clip-path="url(#clipd2)"/>
<circle cx="1457.1" cy="1450.2" r="13.6" fill="#000" clip-path="url(#clipd2)"/>
<circle cx="1564.5" cy="1378.7" r="13.6" fill="#000" clip-path="url(#clipd2)"/>
<circle cx="1658.7" cy="968.3" r="13.6" fill="#000" clip-path="url(#clipd2)"/>
<text x="1294.0" y="1429.6" text-anchor="middle" class="pt" style="font-size:36px">1.5</text>
<text x="1366.0" y="1429.6" text-anchor="middle" class="pt" style="font-size:36px">1</text>
<text x="1450.5" y="1406.6" text-anchor="middle" class="pt" style="font-size:36px">0.7</text>
<text x="1531.9" y="1352.8" text-anchor="middle" class="pt" style="font-size:36px">0.5</text>
<text x="1605.0" y="973.3" text-anchor="middle" class="pt" style="font-size:36px">0.4</text>
<text class="tl" x="109.90" y="722.00" text-anchor="middle">20</text>
<text class="tl" x="242.18" y="722.00" text-anchor="middle">40</text>
<text class="tl" x="374.45" y="722.00" text-anchor="middle">60</text>
<text class="tl" x="506.73" y="722.00" text-anchor="middle">80</text>
<text class="tl" x="639.01" y="722.00" text-anchor="middle">100</text>
<text class="tl" x="771.28" y="722.00" text-anchor="middle">120</text>
<text class="tl" x="903.56" y="722.00" text-anchor="middle">140</text>
<text class="tl" x="101.10" y="678.60" text-anchor="end">0</text>
<text class="tl" x="101.10" y="594.23" text-anchor="end">10</text>
<text class="tl" x="101.10" y="497.96" text-anchor="end">20</text>
<text class="tl" x="101.10" y="401.69" text-anchor="end">30</text>
<text class="tl" x="101.10" y="305.41" text-anchor="end">40</text>
<text class="tl" x="101.10" y="209.14" text-anchor="end">50</text>
<text class="tl" x="101.10" y="112.87" text-anchor="end">60</text>
<text class="tl" x="101.10" y="25.10" text-anchor="end">70</text>
<text x="539.80" y="759.60" text-anchor="middle" style="font-family:'Liberation Sans', Arial, Helvetica, sans-serif;font-size:35.0px">a [au]</text>
<text transform="translate(34.50 341.35) rotate(-90)" x="0" y="0" text-anchor="middle" style="font-size:37.5px">#</text>
<text class="tl" x="1177.30" y="722.10" text-anchor="middle">0.0</text>
<text class="tl" x="1349.14" y="722.10" text-anchor="middle">0.2</text>
<text class="tl" x="1520.98" y="722.10" text-anchor="middle">0.4</text>
<text class="tl" x="1692.82" y="722.10" text-anchor="middle">0.6</text>
<text class="tl" x="1864.66" y="722.10" text-anchor="middle">0.8</text>
<text class="tl" x="2036.50" y="722.10" text-anchor="middle">1.0</text>
<text class="tl" x="1168.50" y="678.70" text-anchor="end">0</text>
<text class="tl" x="1168.50" y="578.33" text-anchor="end">5</text>
<text class="tl" x="1168.50" y="466.07" text-anchor="end">10</text>
<text class="tl" x="1168.50" y="353.80" text-anchor="end">15</text>
<text class="tl" x="1168.50" y="241.53" text-anchor="end">20</text>
<text class="tl" x="1168.50" y="129.27" text-anchor="end">25</text>
<text class="tl" x="1168.50" y="25.50" text-anchor="end">30</text>
<text x="1606.90" y="759.70" text-anchor="middle" style="font-family:'Liberation Sans', Arial, Helvetica, sans-serif;font-size:35.0px">e</text>
<text transform="translate(1101.90 341.60) rotate(-90)" x="0" y="0" text-anchor="middle" style="font-size:37.5px">#</text>
<text class="tl" x="192.90" y="1504.00" text-anchor="middle">50</text>
<text class="tl" x="346.40" y="1504.00" text-anchor="middle">100</text>
<text class="tl" x="499.90" y="1504.00" text-anchor="middle">150</text>
<text class="tl" x="653.40" y="1504.00" text-anchor="middle">200</text>
<text class="tl" x="806.90" y="1504.00" text-anchor="middle">250</text>
<text class="tl" x="960.40" y="1504.00" text-anchor="middle">300</text>
<text class="tl" x="92.00" y="1460.60" text-anchor="end">0</text>
<text class="tl" x="92.00" y="1360.25" text-anchor="end">5</text>
<text class="tl" x="92.00" y="1248.00" text-anchor="end">10</text>
<text class="tl" x="92.00" y="1135.75" text-anchor="end">15</text>
<text class="tl" x="92.00" y="1023.50" text-anchor="end">20</text>
<text class="tl" x="92.00" y="911.25" text-anchor="end">25</text>
<text class="tl" x="92.00" y="807.50" text-anchor="end">30</text>
<text x="530.60" y="1541.60" text-anchor="middle" style="font-family:'Liberation Sans', Arial, Helvetica, sans-serif;font-size:35.0px">r [au]</text>
<text transform="translate(25.60 1123.55) rotate(-90)" x="0" y="0" text-anchor="middle" style="font-size:35.0px">density [arb.u]</text>
<text class="tl" x="1188.40" y="1502.20" text-anchor="middle">0.0</text>
<text class="tl" x="1360.18" y="1502.20" text-anchor="middle">0.2</text>
<text class="tl" x="1531.96" y="1502.20" text-anchor="middle">0.4</text>
<text class="tl" x="1703.74" y="1502.20" text-anchor="middle">0.6</text>
<text class="tl" x="1875.52" y="1502.20" text-anchor="middle">0.8</text>
<text class="tl" x="2047.30" y="1502.20" text-anchor="middle">1.0</text>
<text class="tl" x="1179.60" y="1458.80" text-anchor="end">0</text>
<text class="tl" x="1179.60" y="1336.04" text-anchor="end">20</text>
<text class="tl" x="1179.60" y="1201.38" text-anchor="end">40</text>
<text class="tl" x="1179.60" y="1066.72" text-anchor="end">60</text>
<text class="tl" x="1179.60" y="932.06" text-anchor="end">80</text>
<text class="tl" x="1179.60" y="805.90" text-anchor="end">100</text>
<text x="1617.85" y="1539.80" text-anchor="middle" style="font-family:'Liberation Serif', 'DejaVu Serif', serif;font-size:37.0px">β</text>
<text transform="translate(1092.80 1121.85) rotate(-90)" x="0" y="0" text-anchor="middle" style="font-size:35.0px">fraction lost [%]</text>
<text class="pl" x="850" y="78.3">a)</text>
<text class="pl" x="1871" y="78.3">b)</text>
<text class="pl" x="850.5" y="862.3">c)</text>
<text class="pl" x="1900" y="862.3">d)</text>
</svg></body></html>
